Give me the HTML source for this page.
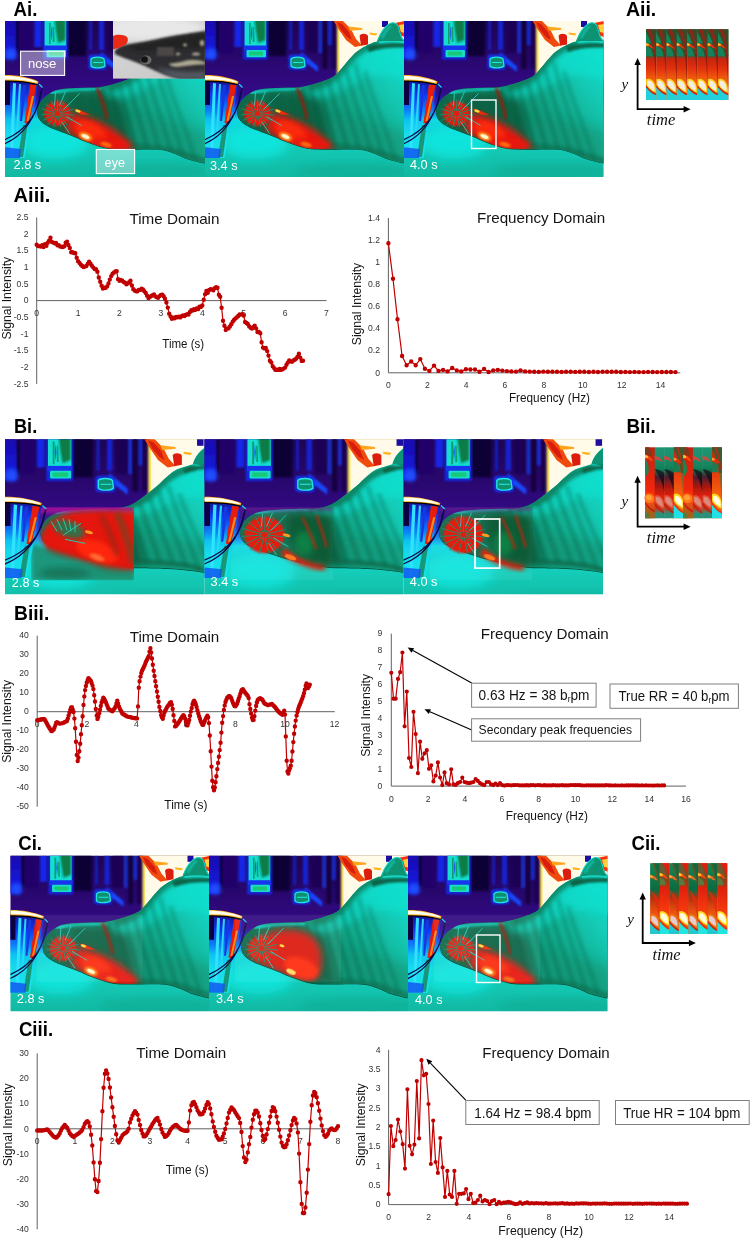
<!DOCTYPE html>
<html><head><meta charset="utf-8"><title>Figure</title>
<style>html,body{margin:0;padding:0;background:#fff}svg{display:block}text{font-family:"Liberation Sans",sans-serif}text.it{font-family:"Liberation Serif",serif;font-style:italic}</style></head><body>
<svg width="750" height="1239" viewBox="0 0 750 1239">
<defs>
<linearGradient id="gBg" x1="0" y1="0" x2="0" y2="156" gradientUnits="userSpaceOnUse">
 <stop offset="0" stop-color="#1e0550"/><stop offset=".22" stop-color="#28076c"/><stop offset=".46" stop-color="#340a88"/>
 <stop offset=".52" stop-color="#2820c0"/><stop offset=".57" stop-color="#1470f0"/><stop offset=".63" stop-color="#10d8e4"/>
 <stop offset=".78" stop-color="#14ccb8"/><stop offset="1" stop-color="#12b8a2"/>
</linearGradient>
<linearGradient id="gStripe" x1="0" y1="0" x2="0" y2="40" gradientUnits="userSpaceOnUse">
 <stop offset="0" stop-color="#1a0eb0"/><stop offset=".6" stop-color="#1814d4"/><stop offset="1" stop-color="#102cff"/>
</linearGradient>
<linearGradient id="gSeal" x1="85" y1="125" x2="195" y2="25" gradientUnits="userSpaceOnUse">
 <stop offset="0" stop-color="#0c6a4a"/><stop offset=".3" stop-color="#109070"/><stop offset=".55" stop-color="#13b296"/><stop offset=".78" stop-color="#14ccb8"/><stop offset="1" stop-color="#12dccc"/>
</linearGradient>
<linearGradient id="gBucket" x1="0" y1="58" x2="0" y2="137" gradientUnits="userSpaceOnUse">
 <stop offset="0" stop-color="#14108a"/><stop offset=".2" stop-color="#1038f0"/><stop offset=".4" stop-color="#1080f8"/><stop offset=".52" stop-color="#10c4f0"/><stop offset=".7" stop-color="#14dcec"/><stop offset="1" stop-color="#18e4e8"/>
</linearGradient>
<radialGradient id="gHot" cx="0.5" cy="0.5" r="0.5">
 <stop offset="0" stop-color="#fffff0"/><stop offset=".3" stop-color="#ffe040"/><stop offset=".6" stop-color="#ff6a10"/><stop offset="1" stop-color="#ee1808" stop-opacity="0"/>
</radialGradient>
<radialGradient id="gRed" cx="0.5" cy="0.5" r="0.5">
 <stop offset="0" stop-color="#ff2a08"/><stop offset=".6" stop-color="#e81808"/><stop offset="1" stop-color="#c01808" stop-opacity="0"/>
</radialGradient>
<filter id="b05" x="-20%" y="-20%" width="140%" height="140%"><feGaussianBlur stdDeviation="0.5"/></filter>
<filter id="b1" x="-20%" y="-20%" width="140%" height="140%"><feGaussianBlur stdDeviation="1"/></filter>
<filter id="b2" x="-30%" y="-30%" width="160%" height="160%"><feGaussianBlur stdDeviation="2"/></filter>
<filter id="b3" x="-30%" y="-30%" width="160%" height="160%"><feGaussianBlur stdDeviation="3.5"/></filter>
<filter id="b6" x="-40%" y="-40%" width="180%" height="180%"><feGaussianBlur stdDeviation="6"/></filter>
<clipPath id="cpPanel"><rect x="0" y="0" width="200" height="156"/></clipPath>
<clipPath id="cpSealB"><path d="M35.5,94C36,84 42,77 52,73.5C62,70.5 80,69.5 107,69.5C116,69.5 124,67 130,63.5C140,57 148,50 154,45C160,39 166,33 172,30C178,27.5 184,26.5 188,25C189,20 193,13 200,8L200,133C188,131 176,129.5 163,129C150,128.6 140,128.6 130,128.3C120,127.5 112,126.5 107,125.5C98,123.5 90,121.5 79,118.5C66,114.5 56,111 46,107C40,104 36,100 35.5,94Z"/></clipPath>
<clipPath id="cpSeal"><path d="M32,91C33,82 38,75 50,69.5C58,67 70,66.7 90,66.5C100,66 116,62 128,56C135,51 141,41 150,32C156,27 164,22.5 172,20.5C174,14 178,6 184,2.5C187,.5 191,.5 193,4C195,8 195.5,13 197,16C198,18 199,19 200,19.5L200,142C194,141 188,139.5 180,137C172,133 162,128.5 152,128C140,127.5 120,128.5 110,128C100,127.5 92,125 77,119C70,115.5 60,112 47,107C40,104 35,100 33,96Z"/></clipPath>

<linearGradient id="gStripA" x1="0" y1="0" x2="0" y2="70.6" gradientUnits="userSpaceOnUse">
 <stop offset="0" stop-color="#0f6a48"/><stop offset=".36" stop-color="#126844"/><stop offset=".42" stop-color="#c82410"/><stop offset=".55" stop-color="#e0300c"/><stop offset=".7" stop-color="#f05c0c"/><stop offset="1" stop-color="#f07010"/>
</linearGradient>
<linearGradient id="gStripC1" x1="0" y1="0" x2="0" y2="70.6" gradientUnits="userSpaceOnUse">
 <stop offset="0" stop-color="#108a58"/><stop offset=".38" stop-color="#0f6a40"/><stop offset=".5" stop-color="#b83010"/><stop offset=".68" stop-color="#e8500c"/><stop offset="1" stop-color="#f07010"/>
</linearGradient>
<linearGradient id="gStripC2" x1="0" y1="0" x2="0" y2="70.6" gradientUnits="userSpaceOnUse">
 <stop offset="0" stop-color="#c82810"/><stop offset=".2" stop-color="#6a5020"/><stop offset=".36" stop-color="#e02008"/><stop offset=".65" stop-color="#f43808"/><stop offset="1" stop-color="#f86810"/>
</linearGradient>
<linearGradient id="gStripB1" x1="0" y1="0" x2="0" y2="71" gradientUnits="userSpaceOnUse">
 <stop offset="0" stop-color="#c02010"/><stop offset=".25" stop-color="#d82008"/><stop offset=".6" stop-color="#f02808"/><stop offset=".75" stop-color="#f85010"/><stop offset=".9" stop-color="#c05018"/><stop offset="1" stop-color="#607830"/>
</linearGradient>
<linearGradient id="gStripB2" x1="0" y1="0" x2="0" y2="71" gradientUnits="userSpaceOnUse">
 <stop offset="0" stop-color="#1c9472"/><stop offset=".12" stop-color="#1c9070"/><stop offset=".3" stop-color="#108058"/><stop offset=".42" stop-color="#4a2030"/><stop offset=".55" stop-color="#a81810"/><stop offset=".68" stop-color="#dc2010"/><stop offset=".86" stop-color="#c83820"/><stop offset=".93" stop-color="#2c9078"/><stop offset="1" stop-color="#2c9078"/>
</linearGradient>
<linearGradient id="gStripB4" x1="0" y1="0" x2="0" y2="71" gradientUnits="userSpaceOnUse">
 <stop offset="0" stop-color="#a03818"/><stop offset=".18" stop-color="#c83010"/><stop offset=".4" stop-color="#e84010"/><stop offset=".65" stop-color="#f46010"/><stop offset="1" stop-color="#f07010"/>
</linearGradient>
<g id="stripA">
 <rect width="10.4" height="70.6" fill="url(#gStripA)"/>
 <path d="M0,0L10.4,0L10.4,27L7,27C6,18 3,8 0,3Z" fill="#3a4a28"/>
 <path d="M1.5,0L5,0C7.5,7 9.5,16 10.2,26L8.4,26C7.5,17 5,8 1.5,0Z" fill="#8a2814"/>
 <path d="M0,3C2.5,8 4.5,11 5,14L0,14Z" fill="#14845e"/>
 <path d="M0,17L4,19C6,21.5 7,24.5 7.2,27L0,27Z" fill="#14805a"/>
 <path d="M0,13.5L4,15L8.5,19.5L5.5,19L3.5,17.5L0,17Z" fill="#e8300a"/>
 <path d="M0,13.8L2.6,14.8L3,16.3L0,16.4Z" fill="#ffc830"/>
 <path d="M8,26C9.2,36 10,50 10.4,63L10.4,26Z" fill="#8a1c0c" opacity=".85"/>
 <path d="M0.2,50C3,48.3 6.8,50.5 8.6,54.2C10,57.3 10.1,61 9.7,63.6C6.5,62.6 2.4,59.6 0.2,56.2Z" fill="#ffd21c"/>
 <path d="M1.4,51.6C3.6,50.6 6.2,52.4 7.6,55.2C8.6,57.6 8.8,60 8.5,61.6C6,60.6 3,58.4 1.4,55.6Z" fill="#f2eee2"/>
 <path d="M0,57.6C3,61.6 7,64.6 10.4,65.6L10.4,70.6L0,70.6Z" fill="#24d0dc"/>
 <path d="M0,55.8C3,60 7,63.2 10.4,64.3L10.4,66C7,65 3,61.9 0,57.9Z" fill="#c82808"/>
</g>
<g id="stripC1">
 <rect width="10" height="70.8" fill="url(#gStripC1)"/>
 <path d="M3,0L9.7,0L9.7,34C9,22 7,10 3,0Z" fill="#0e6a3c"/>
 <path d="M2,0L4.5,0C6.5,6 8,12 8.6,20L7,20C6.4,13 4.5,6 2,0Z" fill="#6a5428" opacity=".8"/>
 <path d="M0,11.5L4.5,13L8,17L5,16.8L3,15.4L0,15Z" fill="#e06a28"/>
 <path d="M0,11.8L2.6,12.8L3,14.2L0,14.3Z" fill="#ffb040"/>
 <path d="M0,27C4,34 7.5,44 9,56L9.7,56L9.7,38C7,34 4,29 0,27Z" fill="#e02c08" opacity=".75"/>
 <path d="M0.2,51.5C3,49.8 6.6,52 8.3,55.6C9.5,58.6 9.5,62.2 9.2,64.6C6.2,63.6 2.3,60.8 0.2,57.4Z" fill="#f0761c"/>
 <path d="M1.2,53C3.4,52 5.8,53.8 7.2,56.6C8.2,59 8.3,61.4 8,63C5.8,62 2.8,59.8 1.2,57Z" fill="#e4ccd0"/>
 <path d="M0,59.4C3,63.4 6.6,66.4 9.7,67.6L9.7,70.8L0,70.8Z" fill="#24c8d0"/>
 <path d="M0,57.6C3,61.8 6.6,65 9.7,66.2L9.7,68C6.6,66.9 3,63.8 0,59.8Z" fill="#c02808"/>
</g>
<g id="stripC2">
 <rect width="10" height="70.8" fill="url(#gStripC2)"/>
 <path d="M0,0L3,0C5.5,5 7,10 7.4,16L0,12Z" fill="#6a5a30"/>
 <path d="M3,0L9.7,0L9.7,14C8.6,9 6.4,4 3,0Z" fill="#e41c08"/>
 <path d="M0,14L4,16C5.5,18 6,20 6,22L0,22Z" fill="#5a7a3c"/>
 <path d="M0,9.5L4.5,11L8.5,15.5L5.5,15L3.5,13.5L0,13.5Z" fill="#f8440c"/>
 <path d="M0,9.6L3,10.8L3.4,12.6L0,12.8Z" fill="#ffc828"/>
 <path d="M8.6,14C9.2,26 9.5,40 9.7,56L9.7,14Z" fill="#a83818" opacity=".8"/>
 <path d="M0,48.5C3,46.6 7,49 8.8,53C10,56.2 10,60 9.6,62.6C6.4,61.6 2.2,58.6 0,55Z" fill="#ffd81c"/>
 <path d="M1,50.2C3.4,49 6.2,51 7.6,54C8.6,56.4 8.8,59 8.5,60.6C6,59.6 2.8,57.2 1,54.2Z" fill="#fffbdc"/>
 <path d="M0,57.6C3,61.8 6.6,65 9.7,66.2L9.7,70.8L0,70.8Z" fill="#22e4e0"/>
 <path d="M0,55.8C3,60.2 6.6,63.6 9.7,64.8L9.7,66.6C6.6,65.5 3,62.2 0,58Z" fill="#e23408"/>
</g>
<g id="stripB1">
 <rect width="10" height="71" fill="url(#gStripB1)"/>
 <path d="M0,0L4,0C5.5,3 6.5,6 6.5,9L0,7Z" fill="#7a3a1c"/>
 <path d="M0,12C2.5,14 4,18 3.5,24C3,27 1.5,28.5 0,29Z" fill="#1a8452"/>
 <path d="M0,7.2L4.5,9L8.5,14L5.5,13.5L3.5,11.8L0,11.5Z" fill="#f04a10"/>
 <path d="M0,7.4L2.6,8.6L3,10.2L0,10.6Z" fill="#ffd040"/>
 <ellipse cx="4.2" cy="51" rx="5" ry="4.6" transform="rotate(25 4.2 51)" fill="#ff7a1c"/>
 <ellipse cx="3.8" cy="50.4" rx="3" ry="2.4" transform="rotate(25 3.8 50.4)" fill="#ffa234"/>
 <path d="M0,54.5C3,59 6.6,62 9.7,63L9.7,65.2C6.6,64.2 3,61 0,57Z" fill="#c81c08"/>
 <path d="M0,58C3,62 6.6,65 9.7,66L9.7,71L0,71Z" fill="#a86018" opacity=".9"/>
 <path d="M0,64L4,67L5,71L0,71Z" fill="#4a8040" opacity=".8"/>
</g>
<g id="stripB2">
 <rect width="10" height="71" fill="url(#gStripB2)"/>
 <path d="M0,8.5L4.5,10L8.5,14.5L5.5,14L3.5,12.5L0,12.5Z" fill="#cc4a3c"/>
 <path d="M0,22C4,27 8,35 9.7,46L9.7,26C7,24 4,22 0,22Z" fill="#0a0a14" opacity=".65"/>
 <path d="M0.2,48.5C3,46.8 6.6,49 8.3,52.6C9.5,55.6 9.5,59 9.2,61.4C6.2,60.4 2.3,57.6 0.2,54.2Z" fill="#e8543c"/>
 <path d="M1.2,50C3.4,49 5.8,50.8 7.2,53.6C8.2,56 8.3,58.2 8,59.8C5.8,58.8 2.8,56.6 1.2,53.8Z" fill="#dc8a7a"/>
 <path d="M0,55.5C3,60 6.6,63.2 9.7,64.4L9.7,66.6C6.6,65.4 3,62.2 0,58Z" fill="#c02010"/>
</g>
<g id="stripB4">
 <rect width="10" height="71" fill="url(#gStripB4)"/>
 <path d="M0,0L9.7,0L9.7,26L7,26C6.4,17 4,8 0,2Z" fill="#3a5a30"/>
 <path d="M2,0L5,0C7,6 8.6,14 9.2,22L7.6,22C7,14 5,6 2,0Z" fill="#a83018"/>
 <path d="M0,14L4,16C5.5,19 6.4,22 6.6,25L0,25Z" fill="#1a7c50"/>
 <path d="M0,10L4.5,11.6L8.5,16L5.5,15.6L3.5,14L0,14Z" fill="#e4300c"/>
 <path d="M0,10.2L2.6,11.4L3,13L0,13.2Z" fill="#ffa030"/>
 <path d="M7.5,26C8.6,36 9.4,48 9.7,60L9.7,26Z" fill="#6a6a2c" opacity=".85"/>
 <path d="M0,47C3,45 7,47.4 8.8,51.6C10,54.8 10,58.8 9.6,61.4C6.4,60.4 2.2,57.2 0,53.6Z" fill="#ffd81c"/>
 <path d="M1,48.8C3.4,47.6 6.2,49.6 7.6,52.8C8.6,55.2 8.8,57.8 8.5,59.4C6,58.4 2.8,56 1,52.8Z" fill="#fffbe0"/>
 <path d="M0,57C3,61.2 6.6,64.6 9.7,65.8L9.7,71L0,71Z" fill="#22e0e8"/>
 <path d="M0,55.2C3,59.6 6.6,63 9.7,64.2L9.7,66C6.6,64.9 3,61.6 0,57.4Z" fill="#e43808"/>
</g>
<filter id="b05s" x="-5%" y="-5%" width="110%" height="110%"><feGaussianBlur stdDeviation="0.45"/></filter>
<linearGradient id="gInset" x1="0" y1="0" x2="1" y2="1">
 <stop offset="0" stop-color="#dcdcdc"/><stop offset=".5" stop-color="#cfcfcf"/><stop offset="1" stop-color="#c4c4c6"/>
</linearGradient>
<clipPath id="cpInset"><rect x="108" y="0" width="92" height="57.8"/></clipPath>
<clipPath id="cpOvB"><rect x="26" y="68" width="103" height="73"/></clipPath>
<clipPath id="cpOvC"><rect x="26" y="59" width="106" height="67"/></clipPath>
<g id="sceneA">
<rect x="-2" y="-2" width="226" height="172" fill="url(#gBg)"/>
<ellipse cx="50" cy="122" rx="34" ry="16" fill="#10ece8" opacity=".75" filter="url(#b6)"/>
<ellipse cx="150" cy="150" rx="60" ry="8" fill="#10a890" opacity=".5" filter="url(#b3)"/>
<g filter="url(#b1)">
<rect x="-2" y="-2" width="12.5" height="40" fill="url(#gStripe)"/>
<rect x="11.6" y="-2" width="1.8" height="35" fill="#05001a"/>
<rect x="14" y="-2" width="14" height="34" fill="#24066a"/>
<rect x="29.5" y="-2" width="7" height="28" fill="#1626e8"/>
<rect x="38" y="-2" width="24.5" height="40.5" fill="#1426dc"/>
<rect x="63" y="-2" width="18" height="37" fill="#0c0034"/>
<rect x="84.5" y="-2" width="2.4" height="31" fill="#1420c8"/>
<rect x="94" y="-2" width="5" height="31" fill="#1824d0"/>
<rect x="102" y="-2" width="11" height="34" fill="#1a0454"/>
<rect x="114.2" y="-2" width="2" height="34" fill="#1840f8"/>
<rect x="123.6" y="-2" width="2.2" height="26" fill="#1438f0"/>
<rect x="117.5" y="-2" width="5" height="50" fill="#12003c"/>
<rect x="126.5" y="-2" width="6" height="50" fill="#1a0450"/>
<path d="M96,31L113,45.5L113,51L96,38Z" fill="#1848ff"/>
<rect x="83.5" y="33.5" width="18" height="15" rx="3" fill="#1430e8"/>
</g>
<ellipse cx="6" cy="33" rx="6" ry="6" fill="#2058ff" opacity=".8" filter="url(#b2)"/>
<g filter="url(#b05)">
<rect x="39.6" y="-2" width="21.6" height="27" fill="#12dcd2"/>
<path d="M49.5,-2L60.4,-2L60.4,19L53,22L51,10Z" fill="#0f7c46" filter="url(#b1)"/>
<path d="M44,2L45.6,2L45.6,23L44,23Z M47.6,6L49,6L49.5,21L47.8,21Z" fill="#109058" opacity=".85"/>
<path d="M46.5,4L47.4,12L46.5,20L45.8,12Z" fill="#2060f0"/>
<rect x="39" y="24.5" width="23" height="5" fill="#1834ec"/>
<rect x="41.5" y="29" width="19.5" height="7.2" rx="1" fill="#14dcc8"/>
<rect x="44" y="30.6" width="14" height="4" rx="1" fill="#18c878"/>
<path d="M86,38C88,35.5 97,35.5 99,38L100,45C97,47.5 88,47.5 86,45Z" fill="#109070" stroke="#20e4e0" stroke-width="1.3"/>
<path d="M88,41.5H98" stroke="#20e4e0" stroke-width="1"/>
</g>
<rect x="132" y="-2" width="72" height="60" fill="#ffe860" filter="url(#b1)"/>
<rect x="134.6" y="-2" width="70" height="58" fill="#fffbe8" filter="url(#b05)"/>
<g filter="url(#b05)">
<path d="M128,-1L137,-1L146,8L151,18L157,24.5L150,26L141,19L133.5,8Z" fill="#f04c08"/>
<path d="M132,1L137,3L144,11L147,19L142,16L136,9Z" fill="#d81c08"/>
<path d="M143,5.5L157,7L157.5,8.8L145,9.8Z" fill="#ffa41c"/>
<path d="M154.6,15C155.4,12 161.6,12 163,15L163,23.5L156,24.8Z" fill="#dc1c08"/>
<path d="M164.5,11.4L172.5,12.4L171,14.4L165,13.6Z" fill="#ffb41c"/>
<path d="M190,2L200,0L200,16L194,14Z" fill="#f83008"/>
<path d="M194,4L200,3L200,12L196,11Z" fill="#ffd040"/>
</g>
<rect x="177" y="-1" width="6" height="7" fill="#1a10a0" filter="url(#b05)"/>
<path d="M32,91C33,82 38,75 50,69.5C58,67 70,66.7 90,66.5C100,66 116,62 128,56C135,51 141,41 150,32C156,27 164,22.5 172,20.5C174,14 178,6 184,2.5C187,.5 191,.5 193,4C195,8 195.5,13 197,16C198,18 199,19 200,19.5L200,142C194,141 188,139.5 180,137C172,133 162,128.5 152,128C140,127.5 120,128.5 110,128C100,127.5 92,125 77,119C70,115.5 60,112 47,107C40,104 35,100 33,96Z" fill="#06402c" filter="url(#b05)" transform="translate(0,.6)"/>
<path d="M32,91C33,82 38,75 50,69.5C58,67 70,66.7 90,66.5C100,66 116,62 128,56C135,51 141,41 150,32C156,27 164,22.5 172,20.5C174,14 178,6 184,2.5C187,.5 191,.5 193,4C195,8 195.5,13 197,16C198,18 199,19 200,19.5L200,142C194,141 188,139.5 180,137C172,133 162,128.5 152,128C140,127.5 120,128.5 110,128C100,127.5 92,125 77,119C70,115.5 60,112 47,107C40,104 35,100 33,96Z" fill="url(#gSeal)"/>
<g clip-path="url(#cpSeal)">
<path d="M100,70C116,67 130,60 140,48C149,38 160,30 174,27C186,26 196,28 204,30L204,62C186,52 166,52 150,62C138,70 122,78 104,80Z" fill="#10e4d4" opacity=".55" filter="url(#b3)"/>
<path d="M45,72C60,68.5 80,68.5 96,68" stroke="#18e4dc" stroke-width="2.4" fill="none" filter="url(#b1)"/>
<path d="M104,66C116,63 126,59 132,53C138,46 144,38 151,32C157,27 165,23 174,21" stroke="#0c7452" stroke-width="8" fill="none" opacity=".75" filter="url(#b2)"/>
<path d="M120,100C150,96 180,104 204,112L204,146L120,132Z" fill="#129a7c" opacity=".7" filter="url(#b6)"/>
<path d="M60,72C80,70 100,72 116,80C122,96 126,112 128,128L96,124C80,112 66,96 60,72Z" fill="#0b5a3c" opacity=".75" filter="url(#b3)"/>
<g stroke="#0a5c3e" fill="none" filter="url(#b2)" opacity=".5">
<path d="M88,69C92,89 95,104 100,126" stroke-width="4"/>
<path d="M97,68C101,88 105,105 110,127" stroke-width="3"/>
<path d="M106,67C110,87 115,105 120,127" stroke-width="3.5"/>
<path d="M115,65C119,85 126,105 131,127" stroke-width="3"/>
<path d="M124,61C128,81 137,105 142,127" stroke-width="3.5"/>
<path d="M133,55C137,75 149,106 154,128" stroke-width="3"/>
<path d="M141,48C145,68 161,109 166,131" stroke-width="3"/>
<path d="M150,42C154,62 173,114 178,136" stroke-width="2.6"/>
<path d="M160,50C164,70 185,117 190,139" stroke-width="2.4"/>
</g>
<path d="M110,125C130,127 150,126 170,131C180,134 190,138.5 202,140.5" stroke="#0a6444" stroke-width="5" fill="none" opacity=".7" filter="url(#b2)"/>
<path d="M40,98C52,104 66,110 78,117" stroke="#0a5c3e" stroke-width="4" fill="none" opacity=".7" filter="url(#b1)"/>
<path d="M173,21C175,14 179,7 184.5,3.5C187.5,1.5 190.5,2 192.5,5C194,9 194.5,13 196,16.5C197,18.5 198,19.5 200,20Z" fill="#0f9272" filter="url(#b05)"/>
<path d="M177,17C180,11 183,7 186,5" stroke="#18c8b0" stroke-width="2" fill="none" filter="url(#b1)"/>
<path d="M162,26C172,22 188,21.5 202,22.5L202,26.5C188,26 174,27 164,31Z" fill="#0a5a3c" opacity=".9" filter="url(#b1)"/>
<path d="M174,21.2C182,19.8 192,20 199,21.5" stroke="#18d8c8" stroke-width="1.4" fill="none" filter="url(#b05)"/>
<path d="M92,67C96,76 100,88 102,98" stroke="#8a2010" stroke-width="4" fill="none" opacity=".8" filter="url(#b1)"/>
<path d="M66,92C80,94 96,100 108,108C118,115 124,121 130,128L100,128C86,125 72,118 60,108Z" fill="#e81808" filter="url(#b3)"/>
<ellipse cx="86" cy="111" rx="17" ry="9" transform="rotate(28 86 111)" fill="#fa2c08" filter="url(#b2)"/>
<ellipse cx="106" cy="122.5" rx="19" ry="5.5" transform="rotate(8 106 122.5)" fill="#e81808" filter="url(#b2)"/>
<ellipse cx="52.5" cy="92.5" rx="13.5" ry="12.4" fill="#e41a0a" filter="url(#b1)"/>
<path d="M55.5,92.8L68.9,94.2M55.1,93.8L66.6,99.7M54.2,94.5L62.0,104.0M53.1,95.0L55.6,106.3M51.8,94.9L48.8,106.2M50.7,94.5L42.6,103.7M49.9,93.7L38.1,99.3M49.5,92.7L36.1,93.7M49.7,91.7L36.9,87.9M50.3,90.8L40.4,82.9M51.3,90.2L46.1,79.5M52.6,90.0L52.8,78.4M53.8,90.2L59.5,79.7M54.8,90.9L65.0,83.3M55.4,91.8L68.3,88.4" stroke="#139474" stroke-width=".9" fill="none" filter="url(#b05)"/>
<path d="M58.5,88.5L74.5,72.5M54.5,84.5L60.5,70.5M49.5,84.5L50.5,71.5M61.5,95.5L76.5,104.5M56.5,100.5L64.5,112.5" stroke="#30d8d0" stroke-width=".8" fill="none"/>
<ellipse cx="80.5" cy="115.5" rx="7" ry="3.8" transform="rotate(24 80.5 115.5)" fill="#ff8a14" filter="url(#b1)"/>
<ellipse cx="80.5" cy="115.5" rx="4.2" ry="2.1" transform="rotate(24 80.5 115.5)" fill="#fffbd0" filter="url(#b05)"/>
<ellipse cx="101" cy="123.5" rx="6" ry="2.2" transform="rotate(15 101 123.5)" fill="#ff7210" filter="url(#b1)"/>
<path d="M68,87.5L76,89.5L85,94L76,93.5Z" fill="#ee2a08" filter="url(#b05)"/>
<ellipse cx="73" cy="90" rx="2.8" ry="1.4" transform="rotate(18 73 90)" fill="#ffd840"/>
</g>
<path d="M-2,58L33.5,62.5L19.5,137L-2,137Z" fill="url(#gBucket)" filter="url(#b05)"/>
<g filter="url(#b05)">
<path d="M-2,60L5,61L5,84L-2,84Z" fill="#100440"/>
<path d="M8,62L11,62.5L8,135L5,135Z" fill="#30e0ff"/>
<path d="M14,63L16,63.2L13,112L11,112Z" fill="#28d8f8"/>
<path d="M18,64L21,64.3L17,100L15,100Z" fill="#1838e0"/>
<path d="M25,63.5L31.5,64L24,103L19.5,102Z" fill="#e81c08"/>
<path d="M27,75L29,75L23.5,100L21.5,100Z" fill="#ff8a18"/>
<path d="M22.5,104L18,136L13,136L18,104Z" fill="#149878"/>
<path d="M-2,126L16,128L15,137L-2,137Z" fill="#1450f0" opacity=".8"/>
</g>
<path d="M-2,54.8C8,54 22,56.2 33,60.8L32.6,64.2C22,61.5 10,60.5 -2,60.8Z" fill="#000"/>
<path d="M-2,54.2C8,53.6 22,55.6 33.5,60.4L32.8,63C22,60 10,59.2 -2,59.6Z" fill="#ffb020" filter="url(#b05)"/>
<path d="M-2,55C8,54.4 21,56.2 32,60.4L31.6,61.8C21,59 9,58.2 -2,58.6Z" fill="#fffff0"/>
<path d="M37,66.5C34,94 19,111 -2,119.5M36,70.5C31.5,98 17,115.5 -2,123.5" stroke="#0a0a48" stroke-width="1.3" fill="none"/>
<path d="M34,63L37.5,66.5" stroke="#20d0f0" stroke-width="1.2"/>
</g>
<g id="sceneN">
<rect x="-2" y="-2" width="226" height="172" fill="url(#gBg)"/>
<ellipse cx="50" cy="122" rx="34" ry="16" fill="#10ece8" opacity=".75" filter="url(#b6)"/>
<ellipse cx="150" cy="150" rx="60" ry="8" fill="#10a890" opacity=".5" filter="url(#b3)"/>
<g filter="url(#b1)">
<rect x="-2" y="-2" width="12.5" height="40" fill="url(#gStripe)"/>
<rect x="11.6" y="-2" width="1.8" height="35" fill="#05001a"/>
<rect x="14" y="-2" width="14" height="34" fill="#24066a"/>
<rect x="29.5" y="-2" width="7" height="28" fill="#1626e8"/>
<rect x="38" y="-2" width="24.5" height="40.5" fill="#1426dc"/>
<rect x="63" y="-2" width="18" height="37" fill="#0c0034"/>
<rect x="84.5" y="-2" width="2.4" height="31" fill="#1420c8"/>
<rect x="94" y="-2" width="5" height="31" fill="#1824d0"/>
<rect x="102" y="-2" width="11" height="34" fill="#1a0454"/>
<rect x="114.2" y="-2" width="2" height="34" fill="#1840f8"/>
<rect x="123.6" y="-2" width="2.2" height="26" fill="#1438f0"/>
<rect x="117.5" y="-2" width="5" height="50" fill="#12003c"/>
<rect x="126.5" y="-2" width="6" height="50" fill="#1a0450"/>
<path d="M96,31L113,45.5L113,51L96,38Z" fill="#1848ff"/>
<rect x="83.5" y="33.5" width="18" height="15" rx="3" fill="#1430e8"/>
</g>
<ellipse cx="6" cy="33" rx="6" ry="6" fill="#2058ff" opacity=".8" filter="url(#b2)"/>
<g filter="url(#b05)">
<rect x="39.6" y="-2" width="21.6" height="27" fill="#12dcd2"/>
<path d="M49.5,-2L60.4,-2L60.4,19L53,22L51,10Z" fill="#0f7c46" filter="url(#b1)"/>
<path d="M44,2L45.6,2L45.6,23L44,23Z M47.6,6L49,6L49.5,21L47.8,21Z" fill="#109058" opacity=".85"/>
<path d="M46.5,4L47.4,12L46.5,20L45.8,12Z" fill="#2060f0"/>
<rect x="39" y="24.5" width="23" height="5" fill="#1834ec"/>
<rect x="41.5" y="29" width="19.5" height="7.2" rx="1" fill="#14dcc8"/>
<rect x="44" y="30.6" width="14" height="4" rx="1" fill="#18c878"/>
<path d="M86,38C88,35.5 97,35.5 99,38L100,45C97,47.5 88,47.5 86,45Z" fill="#109070" stroke="#20e4e0" stroke-width="1.3"/>
<path d="M88,41.5H98" stroke="#20e4e0" stroke-width="1"/>
</g>
<rect x="132" y="-2" width="72" height="60" fill="#ffe860" filter="url(#b1)"/>
<rect x="134.6" y="-2" width="70" height="58" fill="#fffbe8" filter="url(#b05)"/>
<g filter="url(#b05)">
<path d="M128,-1L137,-1L146,8L151,18L157,24.5L150,26L141,19L133.5,8Z" fill="#f04c08"/>
<path d="M132,1L137,3L144,11L147,19L142,16L136,9Z" fill="#d81c08"/>
<path d="M143,5.5L157,7L157.5,8.8L145,9.8Z" fill="#ffa41c"/>
<path d="M154.6,15C155.4,12 161.6,12 163,15L163,23.5L156,24.8Z" fill="#dc1c08"/>
<path d="M164.5,11.4L172.5,12.4L171,14.4L165,13.6Z" fill="#ffb41c"/>
<path d="M190,2L200,0L200,16L194,14Z" fill="#f83008"/>
<path d="M194,4L200,3L200,12L196,11Z" fill="#ffd040"/>
</g>
<rect x="177" y="-1" width="6" height="7" fill="#1a10a0" filter="url(#b05)"/>
<path d="M32,91C33,82 38,75 50,69.5C58,67 70,66.7 90,66.5C100,66 116,62 128,56C135,51 141,41 150,32C156,27 164,22.5 172,20.5C174,14 178,6 184,2.5C187,.5 191,.5 193,4C195,8 195.5,13 197,16C198,18 199,19 200,19.5L200,142C194,141 188,139.5 180,137C172,133 162,128.5 152,128C140,127.5 120,128.5 110,128C100,127.5 92,125 77,119C70,115.5 60,112 47,107C40,104 35,100 33,96Z" fill="#06402c" filter="url(#b05)" transform="translate(0,.6)"/>
<path d="M32,91C33,82 38,75 50,69.5C58,67 70,66.7 90,66.5C100,66 116,62 128,56C135,51 141,41 150,32C156,27 164,22.5 172,20.5C174,14 178,6 184,2.5C187,.5 191,.5 193,4C195,8 195.5,13 197,16C198,18 199,19 200,19.5L200,142C194,141 188,139.5 180,137C172,133 162,128.5 152,128C140,127.5 120,128.5 110,128C100,127.5 92,125 77,119C70,115.5 60,112 47,107C40,104 35,100 33,96Z" fill="url(#gSeal)"/>
<g clip-path="url(#cpSeal)">
<path d="M100,70C116,67 130,60 140,48C149,38 160,30 174,27C186,26 196,28 204,30L204,62C186,52 166,52 150,62C138,70 122,78 104,80Z" fill="#10e4d4" opacity=".55" filter="url(#b3)"/>
<path d="M45,72C60,68.5 80,68.5 96,68" stroke="#18e4dc" stroke-width="2.4" fill="none" filter="url(#b1)"/>
<path d="M104,66C116,63 126,59 132,53C138,46 144,38 151,32C157,27 165,23 174,21" stroke="#0c7452" stroke-width="8" fill="none" opacity=".75" filter="url(#b2)"/>
<path d="M120,100C150,96 180,104 204,112L204,146L120,132Z" fill="#129a7c" opacity=".7" filter="url(#b6)"/>
<path d="M60,72C80,70 100,72 116,80C122,96 126,112 128,128L96,124C80,112 66,96 60,72Z" fill="#0b5a3c" opacity=".75" filter="url(#b3)"/>
<g stroke="#0a5c3e" fill="none" filter="url(#b2)" opacity=".5">
<path d="M88,69C92,89 95,104 100,126" stroke-width="4"/>
<path d="M97,68C101,88 105,105 110,127" stroke-width="3"/>
<path d="M106,67C110,87 115,105 120,127" stroke-width="3.5"/>
<path d="M115,65C119,85 126,105 131,127" stroke-width="3"/>
<path d="M124,61C128,81 137,105 142,127" stroke-width="3.5"/>
<path d="M133,55C137,75 149,106 154,128" stroke-width="3"/>
<path d="M141,48C145,68 161,109 166,131" stroke-width="3"/>
<path d="M150,42C154,62 173,114 178,136" stroke-width="2.6"/>
<path d="M160,50C164,70 185,117 190,139" stroke-width="2.4"/>
</g>
<path d="M110,125C130,127 150,126 170,131C180,134 190,138.5 202,140.5" stroke="#0a6444" stroke-width="5" fill="none" opacity=".7" filter="url(#b2)"/>
<path d="M40,98C52,104 66,110 78,117" stroke="#0a5c3e" stroke-width="4" fill="none" opacity=".7" filter="url(#b1)"/>
<path d="M173,21C175,14 179,7 184.5,3.5C187.5,1.5 190.5,2 192.5,5C194,9 194.5,13 196,16.5C197,18.5 198,19.5 200,20Z" fill="#0f9272" filter="url(#b05)"/>
<path d="M177,17C180,11 183,7 186,5" stroke="#18c8b0" stroke-width="2" fill="none" filter="url(#b1)"/>
<path d="M162,26C172,22 188,21.5 202,22.5L202,26.5C188,26 174,27 164,31Z" fill="#0a5a3c" opacity=".9" filter="url(#b1)"/>
<path d="M174,21.2C182,19.8 192,20 199,21.5" stroke="#18d8c8" stroke-width="1.4" fill="none" filter="url(#b05)"/>
</g>
</g>
<g id="bgB"><g transform="scale(1.085)">
<rect x="-2" y="-2" width="226" height="172" fill="url(#gBg)"/>
<ellipse cx="50" cy="122" rx="34" ry="16" fill="#10ece8" opacity=".75" filter="url(#b6)"/>
<ellipse cx="150" cy="150" rx="60" ry="8" fill="#10a890" opacity=".5" filter="url(#b3)"/>
<g filter="url(#b1)">
<rect x="-2" y="-2" width="12.5" height="40" fill="url(#gStripe)"/>
<rect x="11.6" y="-2" width="1.8" height="35" fill="#05001a"/>
<rect x="14" y="-2" width="14" height="34" fill="#24066a"/>
<rect x="29.5" y="-2" width="7" height="28" fill="#1626e8"/>
<rect x="38" y="-2" width="24.5" height="40.5" fill="#1426dc"/>
<rect x="63" y="-2" width="18" height="37" fill="#0c0034"/>
<rect x="84.5" y="-2" width="2.4" height="31" fill="#1420c8"/>
<rect x="94" y="-2" width="5" height="31" fill="#1824d0"/>
<rect x="102" y="-2" width="11" height="34" fill="#1a0454"/>
<rect x="114.2" y="-2" width="2" height="34" fill="#1840f8"/>
<rect x="123.6" y="-2" width="2.2" height="26" fill="#1438f0"/>
<rect x="117.5" y="-2" width="5" height="50" fill="#12003c"/>
<rect x="126.5" y="-2" width="6" height="50" fill="#1a0450"/>
<path d="M96,31L113,45.5L113,51L96,38Z" fill="#1848ff"/>
<rect x="83.5" y="33.5" width="18" height="15" rx="3" fill="#1430e8"/>
</g>
<ellipse cx="6" cy="33" rx="6" ry="6" fill="#2058ff" opacity=".8" filter="url(#b2)"/>
<g filter="url(#b05)">
<rect x="39.6" y="-2" width="21.6" height="27" fill="#12dcd2"/>
<path d="M49.5,-2L60.4,-2L60.4,19L53,22L51,10Z" fill="#0f7c46" filter="url(#b1)"/>
<path d="M44,2L45.6,2L45.6,23L44,23Z M47.6,6L49,6L49.5,21L47.8,21Z" fill="#109058" opacity=".85"/>
<path d="M46.5,4L47.4,12L46.5,20L45.8,12Z" fill="#2060f0"/>
<rect x="39" y="24.5" width="23" height="5" fill="#1834ec"/>
<rect x="41.5" y="29" width="19.5" height="7.2" rx="1" fill="#14dcc8"/>
<rect x="44" y="30.6" width="14" height="4" rx="1" fill="#18c878"/>
<path d="M86,38C88,35.5 97,35.5 99,38L100,45C97,47.5 88,47.5 86,45Z" fill="#109070" stroke="#20e4e0" stroke-width="1.3"/>
<path d="M88,41.5H98" stroke="#20e4e0" stroke-width="1"/>
</g>
<rect x="132" y="-2" width="72" height="60" fill="#ffe860" filter="url(#b1)"/>
<rect x="134.6" y="-2" width="70" height="58" fill="#fffbe8" filter="url(#b05)"/>
<g filter="url(#b05)">
<path d="M128,-1L137,-1L146,8L151,18L157,24.5L150,26L141,19L133.5,8Z" fill="#f04c08"/>
<path d="M132,1L137,3L144,11L147,19L142,16L136,9Z" fill="#d81c08"/>
<path d="M143,5.5L157,7L157.5,8.8L145,9.8Z" fill="#ffa41c"/>
<path d="M154.6,15C155.4,12 161.6,12 163,15L163,23.5L156,24.8Z" fill="#dc1c08"/>
<path d="M164.5,11.4L172.5,12.4L171,14.4L165,13.6Z" fill="#ffb41c"/>
<path d="M190,2L200,0L200,16L194,14Z" fill="#f83008"/>
<path d="M194,4L200,3L200,12L196,11Z" fill="#ffd040"/>
</g>
<rect x="177" y="-1" width="6" height="7" fill="#1a10a0" filter="url(#b05)"/>
</g>
<path d="M35.5,94C36,84 42,77 52,73.5C62,70.5 80,69.5 107,69.5C116,69.5 124,67 130,63.5C140,57 148,50 154,45C160,39 166,33 172,30C178,27.5 184,26.5 188,25C189,20 193,13 200,8L200,133C188,131 176,129.5 163,129C150,128.6 140,128.6 130,128.3C120,127.5 112,126.5 107,125.5C98,123.5 90,121.5 79,118.5C66,114.5 56,111 46,107C40,104 36,100 35.5,94Z" fill="#06402c" filter="url(#b05)" transform="translate(0,.6)"/>
<path d="M35.5,94C36,84 42,77 52,73.5C62,70.5 80,69.5 107,69.5C116,69.5 124,67 130,63.5C140,57 148,50 154,45C160,39 166,33 172,30C178,27.5 184,26.5 188,25C189,20 193,13 200,8L200,133C188,131 176,129.5 163,129C150,128.6 140,128.6 130,128.3C120,127.5 112,126.5 107,125.5C98,123.5 90,121.5 79,118.5C66,114.5 56,111 46,107C40,104 36,100 35.5,94Z" fill="url(#gSeal)"/>
<g clip-path="url(#cpSealB)">
<g transform="matrix(1.09,0,0,.9,0,9)"><path d="M100,70C116,67 130,60 140,48C149,38 160,30 174,27C186,26 196,28 204,30L204,62C186,52 166,52 150,62C138,70 122,78 104,80Z" fill="#10e4d4" opacity=".55" filter="url(#b3)"/>
<path d="M45,72C60,68.5 80,68.5 96,68" stroke="#18e4dc" stroke-width="2.4" fill="none" filter="url(#b1)"/>
<path d="M104,66C116,63 126,59 132,53C138,46 144,38 151,32C157,27 165,23 174,21" stroke="#0c7452" stroke-width="8" fill="none" opacity=".75" filter="url(#b2)"/>
<path d="M120,100C150,96 180,104 204,112L204,146L120,132Z" fill="#129a7c" opacity=".7" filter="url(#b6)"/>
<path d="M60,72C80,70 100,72 116,80C122,96 126,112 128,128L96,124C80,112 66,96 60,72Z" fill="#0b5a3c" opacity=".75" filter="url(#b3)"/>
<g stroke="#0a5c3e" fill="none" filter="url(#b2)" opacity=".5">
<path d="M88,69C92,89 95,104 100,126" stroke-width="4"/>
<path d="M97,68C101,88 105,105 110,127" stroke-width="3"/>
<path d="M106,67C110,87 115,105 120,127" stroke-width="3.5"/>
<path d="M115,65C119,85 126,105 131,127" stroke-width="3"/>
<path d="M124,61C128,81 137,105 142,127" stroke-width="3.5"/>
<path d="M133,55C137,75 149,106 154,128" stroke-width="3"/>
<path d="M141,48C145,68 161,109 166,131" stroke-width="3"/>
<path d="M150,42C154,62 173,114 178,136" stroke-width="2.6"/>
<path d="M160,50C164,70 185,117 190,139" stroke-width="2.4"/>
</g>
<path d="M110,125C130,127 150,126 170,131C180,134 190,138.5 202,140.5" stroke="#0a6444" stroke-width="5" fill="none" opacity=".7" filter="url(#b2)"/>
<path d="M40,98C52,104 66,110 78,117" stroke="#0a5c3e" stroke-width="4" fill="none" opacity=".7" filter="url(#b1)"/></g>
<path d="M186,24C189,19 193,13 201,8L201,27Z" fill="#0f9474" filter="url(#b05)"/>
<path d="M178,30C186,27 194,26 202,26L202,30C194,30 186,31 180,34Z" fill="#0a5a3c" opacity=".85" filter="url(#b1)"/>
</g>
</g>
<g id="bucket">
<path d="M-2,58L33.5,62.5L19.5,137L-2,137Z" fill="url(#gBucket)" filter="url(#b05)"/>
<g filter="url(#b05)">
<path d="M-2,60L5,61L5,84L-2,84Z" fill="#100440"/>
<path d="M8,62L11,62.5L8,135L5,135Z" fill="#30e0ff"/>
<path d="M14,63L16,63.2L13,112L11,112Z" fill="#28d8f8"/>
<path d="M18,64L21,64.3L17,100L15,100Z" fill="#1838e0"/>
<path d="M25,63.5L31.5,64L24,103L19.5,102Z" fill="#e81c08"/>
<path d="M27,75L29,75L23.5,100L21.5,100Z" fill="#ff8a18"/>
<path d="M22.5,104L18,136L13,136L18,104Z" fill="#149878"/>
<path d="M-2,126L16,128L15,137L-2,137Z" fill="#1450f0" opacity=".8"/>
</g>
<path d="M-2,54.8C8,54 22,56.2 33,60.8L32.6,64.2C22,61.5 10,60.5 -2,60.8Z" fill="#000"/>
<path d="M-2,54.2C8,53.6 22,55.6 33.5,60.4L32.8,63C22,60 10,59.2 -2,59.6Z" fill="#ffb020" filter="url(#b05)"/>
<path d="M-2,55C8,54.4 21,56.2 32,60.4L31.6,61.8C21,59 9,58.2 -2,58.6Z" fill="#fffff0"/>
<path d="M37,66.5C34,94 19,111 -2,119.5M36,70.5C31.5,98 17,115.5 -2,123.5" stroke="#0a0a48" stroke-width="1.3" fill="none"/>
<path d="M34,63L37.5,66.5" stroke="#20d0f0" stroke-width="1.2"/>
</g></defs>
<rect width="750" height="1239" fill="#fff"/>
<svg x="5" y="21" width="200" height="156" viewBox="0 0 200 156" overflow="hidden"><use href="#sceneA"/><g clip-path="url(#cpInset)">
<rect x="108" y="0" width="92" height="57.8" fill="url(#gInset)"/>
<ellipse cx="150" cy="8" rx="50" ry="12" fill="#e8e8e8" filter="url(#b3)"/>
<path d="M109.5,31C111,27 116,24.5 122,23.5C134,22 146,20 158,17C172,14 188,12 201,10L201,58L176,58C166,56 154,52 144,47C132,41 118,37 110.5,33.5Z" fill="#2e2e30" filter="url(#b1)"/>
<path d="M120,26C134,23 150,21 166,17L201,12L201,26C180,28 150,30 130,30Z" fill="#222224" filter="url(#b2)"/>
<path d="M150,46C165,50 185,52 201,50L201,58L176,58C166,56 158,52 150,46Z" fill="#555a64" filter="url(#b2)"/>
<g fill="#aaa690" filter="url(#b1)">
<path d="M164,43C168,41.5 174,42 181,39.5C187,38 194,39 200,41L200,43.5C190,43.5 180,45 173,46C168,46 165,45 164,43Z"/>
<ellipse cx="191" cy="33" rx="4" ry="1.6"/><ellipse cx="180" cy="24" rx="2" ry="1.4"/><ellipse cx="197" cy="22" rx="2.2" ry="3"/><ellipse cx="173" cy="33" rx="2.4" ry="1.2"/>
</g>
<rect x="152" y="26" width="17" height="9" fill="#4c4644" filter="url(#b1)"/>
<ellipse cx="141" cy="39" rx="5.5" ry="4.6" fill="#6a6668" filter="url(#b05)"/>
<ellipse cx="139.5" cy="38.5" rx="3.4" ry="3.2" fill="#141416"/>
<path d="M108,15C112,13 119,13.5 122,16C123.5,18 123,22 120,24C116,26 111,27.5 108,28.5Z" fill="#e82a14" filter="url(#b05)"/>
</g><rect x="15.6" y="30.2" width="44" height="24.2" fill="#fff" fill-opacity=".42" stroke="#fff" stroke-width="1.1"/>
<text x="22.9" y="47.1" font-size="13.5" fill="#fff" textLength="28.4" lengthAdjust="spacingAndGlyphs">nose</text>
<rect x="91.3" y="128.5" width="38.3" height="24.1" fill="#fff" fill-opacity=".42" stroke="#fff" stroke-width="1.1"/>
<text x="99.6" y="145.8" font-size="13.5" fill="#fff" textLength="20.4" lengthAdjust="spacingAndGlyphs">eye</text><text x="8.6" y="148.2" font-size="12.8" fill="#fff" textLength="27.6" lengthAdjust="spacingAndGlyphs">2.8 s</text></svg>
<svg x="205" y="21" width="199" height="156" viewBox="0 0 199 156" overflow="hidden"><use href="#sceneA"/><text x="5" y="148.6" font-size="12.8" fill="#fff" textLength="27.6" lengthAdjust="spacingAndGlyphs">3.4 s</text></svg>
<svg x="404" y="21" width="199.5" height="156" viewBox="0 0 199.5 156" overflow="hidden"><use href="#sceneA"/><rect x="67.5" y="79" width="24.5" height="48.5" fill="none" stroke="#fff" stroke-width="1.4"/><text x="6" y="148.2" font-size="12.8" fill="#fff" textLength="27.6" lengthAdjust="spacingAndGlyphs">4.0 s</text></svg>
<svg x="5" y="439.3" width="199.5" height="155" viewBox="0 0 199.5 155" overflow="hidden"><use href="#bgB"/>
<g clip-path="url(#cpOvB)">
<rect x="26" y="68" width="103" height="73" fill="#fff" opacity=".06"/>
<rect x="26" y="66" width="103" height="8" fill="#b0109a" opacity=".85" filter="url(#b2)"/>
<path d="M36,100C38,86 50,76 70,73C90,71 115,72 131,72L131,132C115,134 100,132 86,126C70,120 52,118 42,112Z" fill="#e41408" filter="url(#b2)"/>
<ellipse cx="92" cy="112" rx="22" ry="10" transform="rotate(20 92 112)" fill="#ff2808" filter="url(#b2)"/>
<path d="M96,76C102,86 108,100 112,116" stroke="#8a2c18" stroke-width="6" fill="none" opacity=".6" filter="url(#b2)"/>
<path d="M112,74C118,86 124,104 128,124" stroke="#5a5028" stroke-width="7" fill="none" opacity=".6" filter="url(#b2)"/>
<ellipse cx="64" cy="90" rx="16" ry="8" transform="rotate(20 64 90)" fill="#1a7a50" opacity=".85" filter="url(#b2)"/>
<path d="M46,82L52,92M52,80L57,91M58,79L62,91M64,80L66,92M70,82L70,93M58,96L76,84M60,100L80,104" stroke="#28c8b0" stroke-width="1" fill="none"/>
<ellipse cx="84" cy="93" rx="4" ry="1.6" transform="rotate(15 84 93)" fill="#ff9a20"/>
<path d="M26,104C34,106 40,108 46,110C58,114 70,118 80,121C96,126 112,129 130,131L130,142L26,142Z" fill="#1c7a58" opacity=".72" filter="url(#b2)"/>
<ellipse cx="60" cy="134" rx="26" ry="6" fill="#14583c" opacity=".55" filter="url(#b3)"/>
<ellipse cx="92" cy="118" rx="8" ry="3" transform="rotate(20 92 118)" fill="#ff6a30" filter="url(#b1)"/>
</g>
<g transform="matrix(1.1,0,0,.98,0,4.5)"><use href="#bucket"/></g><text x="6.8" y="147.5" font-size="12.8" fill="#fff" textLength="27.6" lengthAdjust="spacingAndGlyphs">2.8 s</text></svg>
<svg x="204.5" y="439.3" width="199" height="155" viewBox="0 0 199 155" overflow="hidden"><use href="#bgB"/>
<g clip-path="url(#cpOvB)">
<rect x="26" y="68" width="103" height="73" fill="#fff" opacity=".06"/>
<rect x="26" y="66" width="103" height="6" fill="#7a1890" opacity=".5" filter="url(#b2)"/>
<ellipse cx="60" cy="95.5" rx="20" ry="18.4" fill="#e41a0a" filter="url(#b1)"/>
<path d="M63.0,95.8L82.8,97.9M62.6,96.8L79.7,105.5M61.7,97.5L73.2,111.4M60.6,98.0L64.4,114.5M59.3,97.9L54.8,114.4M58.2,97.5L46.2,111.0M57.4,96.7L39.9,104.9M57.0,95.7L37.1,97.2M57.2,94.7L38.3,89.2M57.8,93.8L43.2,82.3M58.8,93.2L51.0,77.6M60.1,93.0L60.4,76.1M61.3,93.2L69.7,77.9M62.3,93.9L77.4,82.8M62.9,94.8L82.0,89.8" stroke="#139474" stroke-width=".9" fill="none" filter="url(#b05)"/>
<path d="M66,91.5L82,75.5M62,87.5L68,73.5M57,87.5L58,74.5M69,98.5L84,107.5M64,103.5L72,115.5" stroke="#30d8d0" stroke-width=".8" fill="none"/>
<path d="M78,112C90,120 104,126 120,128" stroke="#e82008" stroke-width="7" fill="none" filter="url(#b2)"/>
<path d="M84,76C96,74 112,76 128,74L128,126C112,126 100,122 92,112C86,102 82,90 84,76Z" fill="#0c5a34" opacity=".9" filter="url(#b3)"/>
<ellipse cx="100" cy="104" rx="10" ry="12" fill="#0f8a48" opacity=".8" filter="url(#b3)"/>
<path d="M98,78C104,90 108,100 112,110M112,76C116,88 120,98 122,108" stroke="#b02810" stroke-width="3" fill="none" opacity=".75" filter="url(#b1)"/>
<ellipse cx="86" cy="118" rx="6" ry="2.6" transform="rotate(20 86 118)" fill="#ff7a20" filter="url(#b05)"/>
<ellipse cx="82" cy="96" rx="4" ry="1.5" transform="rotate(15 82 96)" fill="#ff9a20"/>
</g>
<g transform="matrix(1.1,0,0,.98,0,4.5)"><use href="#bucket"/></g><text x="6.1" y="147.2" font-size="12.8" fill="#fff" textLength="27.6" lengthAdjust="spacingAndGlyphs">3.4 s</text></svg>
<svg x="403.5" y="439.3" width="199.5" height="155" viewBox="0 0 199.5 155" overflow="hidden"><use href="#bgB"/>
<g clip-path="url(#cpOvB)">
<rect x="26" y="68" width="103" height="73" fill="#fff" opacity=".06"/>
<rect x="26" y="66" width="103" height="6" fill="#7a1890" opacity=".5" filter="url(#b2)"/>
<ellipse cx="60" cy="95.5" rx="20" ry="18.4" fill="#e41a0a" filter="url(#b1)"/>
<path d="M63.0,95.8L82.8,97.9M62.6,96.8L79.7,105.5M61.7,97.5L73.2,111.4M60.6,98.0L64.4,114.5M59.3,97.9L54.8,114.4M58.2,97.5L46.2,111.0M57.4,96.7L39.9,104.9M57.0,95.7L37.1,97.2M57.2,94.7L38.3,89.2M57.8,93.8L43.2,82.3M58.8,93.2L51.0,77.6M60.1,93.0L60.4,76.1M61.3,93.2L69.7,77.9M62.3,93.9L77.4,82.8M62.9,94.8L82.0,89.8" stroke="#139474" stroke-width=".9" fill="none" filter="url(#b05)"/>
<path d="M66,91.5L82,75.5M62,87.5L68,73.5M57,87.5L58,74.5M69,98.5L84,107.5M64,103.5L72,115.5" stroke="#30d8d0" stroke-width=".8" fill="none"/>
<path d="M78,112C90,120 104,126 120,128" stroke="#e82008" stroke-width="7" fill="none" filter="url(#b2)"/>
<path d="M84,76C96,74 112,76 128,74L128,126C112,126 100,122 92,112C86,102 82,90 84,76Z" fill="#0c5a34" opacity=".9" filter="url(#b3)"/>
<ellipse cx="100" cy="104" rx="10" ry="12" fill="#0f8a48" opacity=".8" filter="url(#b3)"/>
<path d="M98,78C104,90 108,100 112,110M112,76C116,88 120,98 122,108" stroke="#b02810" stroke-width="3" fill="none" opacity=".75" filter="url(#b1)"/>
<ellipse cx="86" cy="118" rx="6" ry="2.6" transform="rotate(20 86 118)" fill="#ff7a20" filter="url(#b05)"/>
<ellipse cx="82" cy="96" rx="4" ry="1.5" transform="rotate(15 82 96)" fill="#ff9a20"/>
</g>
<g transform="matrix(1.1,0,0,.98,0,4.5)"><use href="#bucket"/></g><rect x="71.5" y="79.7" width="24.7" height="49.1" fill="none" stroke="#fff" stroke-width="1.7"/><text x="6.3" y="147.2" font-size="12.8" fill="#fff" textLength="27.6" lengthAdjust="spacingAndGlyphs">4.0 s</text></svg>
<svg x="10.5" y="855.8" width="198.5" height="155.5" viewBox="0 0 198.5 155.5" overflow="hidden"><use href="#sceneA"/>
<rect x="26" y="59" width="106" height="67" fill="#fff" opacity=".07"/><text x="6.3" y="147.6" font-size="12.8" fill="#fff" textLength="27.6" lengthAdjust="spacingAndGlyphs">2.8 s</text></svg>
<svg x="209" y="855.8" width="199" height="155.5" viewBox="0 0 199 155.5" overflow="hidden"><use href="#sceneN"/>
<g clip-path="url(#cpSeal)"><g clip-path="url(#cpOvC)">
<path d="M40,96C44,82 60,74 80,74C96,74 108,80 112,96C114,110 112,124 100,126C84,124 60,112 44,104Z" fill="#e81808" opacity=".95" filter="url(#b3)"/>
<ellipse cx="92" cy="112" rx="18" ry="10" transform="rotate(20 92 112)" fill="#ff2a08" filter="url(#b2)"/>
<ellipse cx="52.5" cy="92.5" rx="13.5" ry="12.4" fill="#e41a0a" filter="url(#b1)"/>
<path d="M55.5,92.8L68.9,94.2M55.1,93.8L66.6,99.7M54.2,94.5L62.0,104.0M53.1,95.0L55.6,106.3M51.8,94.9L48.8,106.2M50.7,94.5L42.6,103.7M49.9,93.7L38.1,99.3M49.5,92.7L36.1,93.7M49.7,91.7L36.9,87.9M50.3,90.8L40.4,82.9M51.3,90.2L46.1,79.5M52.6,90.0L52.8,78.4M53.8,90.2L59.5,79.7M54.8,90.9L65.0,83.3M55.4,91.8L68.3,88.4" stroke="#139474" stroke-width=".9" fill="none" filter="url(#b05)"/>
<path d="M58.5,88.5L74.5,72.5M54.5,84.5L60.5,70.5M49.5,84.5L50.5,71.5M61.5,95.5L76.5,104.5M56.5,100.5L64.5,112.5" stroke="#30d8d0" stroke-width=".8" fill="none"/>
<ellipse cx="82" cy="116" rx="5" ry="2.4" transform="rotate(24 82 116)" fill="#ffd860" filter="url(#b05)"/>
<ellipse cx="73" cy="90" rx="2.6" ry="1.3" transform="rotate(18 73 90)" fill="#ffd840"/>
</g></g>
<use href="#bucket"/>
<rect x="26" y="59" width="106" height="67" fill="#fff" opacity=".07"/><text x="7" y="147" font-size="12.8" fill="#fff" textLength="27.6" lengthAdjust="spacingAndGlyphs">3.4 s</text></svg>
<svg x="408" y="855.8" width="199.5" height="155.5" viewBox="0 0 199.5 155.5" overflow="hidden"><use href="#sceneA"/>
<rect x="26" y="59" width="106" height="67" fill="#fff" opacity=".07"/><rect x="68.5" y="79.2" width="23.5" height="47.5" fill="none" stroke="#fff" stroke-width="1.4"/><text x="7" y="148" font-size="12.8" fill="#fff" textLength="27.6" lengthAdjust="spacingAndGlyphs">4.0 s</text></svg>
<g filter="url(#b05s)">
<use href="#stripA" x="646" y="29.3"/>
<use href="#stripA" x="656.3" y="29.3"/>
<use href="#stripA" x="666.6" y="29.3"/>
<use href="#stripA" x="676.8" y="29.3"/>
<use href="#stripA" x="687.1" y="29.3"/>
<use href="#stripA" x="697.4" y="29.3"/>
<use href="#stripA" x="707.7" y="29.3"/>
<use href="#stripA" x="718" y="29.3"/>
<use href="#stripB1" x="645.1" y="447.3"/>
<use href="#stripB2" x="654.7" y="447.3"/>
<use href="#stripB2" x="664.2" y="447.3"/>
<use href="#stripB4" x="673.8" y="447.3"/>
<use href="#stripB1" x="683.3" y="447.3"/>
<use href="#stripB2" x="692.9" y="447.3"/>
<use href="#stripB2" x="702.5" y="447.3"/>
<use href="#stripB4" x="712" y="447.3"/>
<use href="#stripC1" x="650.1" y="863.2"/>
<use href="#stripC2" x="659.7" y="863.2"/>
<use href="#stripC1" x="669.3" y="863.2"/>
<use href="#stripC2" x="678.9" y="863.2"/>
<use href="#stripC1" x="688.5" y="863.2"/>
<use href="#stripC2" x="698.1" y="863.2"/>
<use href="#stripC1" x="707.8" y="863.2"/>
<use href="#stripC2" x="717.4" y="863.2"/>
</g>
<path d="M637.6,62.9V109.2H685.6" stroke="#000" stroke-width="1.8" fill="none" stroke-linejoin="miter"/>
<path d="M637.6,57.9l3.2,7h-6.4z M690.6,109.2l-7,-3.2v6.4z" fill="#000"/>
<text x="621.6" y="89" class="it" font-size="15" fill="#111">y</text>
<text x="646.8" y="125" class="it" font-size="16" fill="#111" textLength="28.5" lengthAdjust="spacingAndGlyphs">time</text>
<path d="M637.6,480.7V526.7H685.6" stroke="#000" stroke-width="1.8" fill="none" stroke-linejoin="miter"/>
<path d="M637.6,475.7l3.2,7h-6.4z M690.6,526.7l-7,-3.2v6.4z" fill="#000"/>
<text x="621.6" y="505.8" class="it" font-size="15" fill="#111">y</text>
<text x="646.8" y="542.9" class="it" font-size="16" fill="#111" textLength="28.5" lengthAdjust="spacingAndGlyphs">time</text>
<path d="M642.7,897.5V943H690.9" stroke="#000" stroke-width="1.8" fill="none" stroke-linejoin="miter"/>
<path d="M642.7,892.5l3.2,7h-6.4z M695.9,943l-7,-3.2v6.4z" fill="#000"/>
<text x="627.2" y="923.5" class="it" font-size="15" fill="#111">y</text>
<text x="652.4" y="959.7" class="it" font-size="16" fill="#111" textLength="28.2" lengthAdjust="spacingAndGlyphs">time</text>
<text x="13.6" y="16" font-size="19.4" fill="#000" font-weight="bold" textLength="23.8" lengthAdjust="spacingAndGlyphs" >Ai.</text>
<text x="625.9" y="15.9" font-size="19.4" fill="#000" font-weight="bold" textLength="30.4" lengthAdjust="spacingAndGlyphs" >Aii.</text>
<text x="13.6" y="201.7" font-size="19.4" fill="#000" font-weight="bold" textLength="36.8" lengthAdjust="spacingAndGlyphs" >Aiii.</text>
<text x="14" y="432.5" font-size="19.4" fill="#000" font-weight="bold" textLength="23.2" lengthAdjust="spacingAndGlyphs" >Bi.</text>
<text x="626.4" y="433.3" font-size="19.4" fill="#000" font-weight="bold" textLength="29.3" lengthAdjust="spacingAndGlyphs" >Bii.</text>
<text x="14.1" y="619.8" font-size="19.4" fill="#000" font-weight="bold" textLength="35.2" lengthAdjust="spacingAndGlyphs" >Biii.</text>
<text x="18.2" y="850" font-size="19.4" fill="#000" font-weight="bold" textLength="23.8" lengthAdjust="spacingAndGlyphs" >Ci.</text>
<text x="631.5" y="849.6" font-size="19.4" fill="#000" font-weight="bold" textLength="28.9" lengthAdjust="spacingAndGlyphs" >Cii.</text>
<text x="18.9" y="1035.9" font-size="19.4" fill="#000" font-weight="bold" textLength="34.2" lengthAdjust="spacingAndGlyphs" >Ciii.</text>
<path d="M36.7,217.4V383.9M36.7,300.6H326.5" stroke="#626262" stroke-width="1" fill="none"/>
<text x="28.5" y="386.6" font-size="8.6" fill="#333" text-anchor="end" >-2.5</text>
<text x="28.5" y="369.9" font-size="8.6" fill="#333" text-anchor="end" >-2</text>
<text x="28.5" y="353.2" font-size="8.6" fill="#333" text-anchor="end" >-1.5</text>
<text x="28.5" y="336.6" font-size="8.6" fill="#333" text-anchor="end" >-1</text>
<text x="28.5" y="319.9" font-size="8.6" fill="#333" text-anchor="end" >-0.5</text>
<text x="28.5" y="303.3" font-size="8.6" fill="#333" text-anchor="end" >0</text>
<text x="28.5" y="286.7" font-size="8.6" fill="#333" text-anchor="end" >0.5</text>
<text x="28.5" y="270" font-size="8.6" fill="#333" text-anchor="end" >1</text>
<text x="28.5" y="253.4" font-size="8.6" fill="#333" text-anchor="end" >1.5</text>
<text x="28.5" y="236.7" font-size="8.6" fill="#333" text-anchor="end" >2</text>
<text x="28.5" y="220.1" font-size="8.6" fill="#333" text-anchor="end" >2.5</text>
<text x="36.7" y="316.1" font-size="8.6" fill="#333" text-anchor="middle" >0</text>
<text x="78.1" y="316.1" font-size="8.6" fill="#333" text-anchor="middle" >1</text>
<text x="119.5" y="316.1" font-size="8.6" fill="#333" text-anchor="middle" >2</text>
<text x="160.9" y="316.1" font-size="8.6" fill="#333" text-anchor="middle" >3</text>
<text x="202.3" y="316.1" font-size="8.6" fill="#333" text-anchor="middle" >4</text>
<text x="243.7" y="316.1" font-size="8.6" fill="#333" text-anchor="middle" >5</text>
<text x="285.1" y="316.1" font-size="8.6" fill="#333" text-anchor="middle" >6</text>
<text x="326.5" y="316.1" font-size="8.6" fill="#333" text-anchor="middle" >7</text>
<text x="129.4" y="223.9" font-size="14.8" fill="#141414" textLength="90.1" lengthAdjust="spacingAndGlyphs" >Time Domain</text>
<text x="162.3" y="348.2" font-size="12.6" fill="#141414" textLength="41.9" lengthAdjust="spacingAndGlyphs" >Time (s)</text>
<text transform="translate(11,339.6) rotate(-90)" font-size="12.6" fill="#141414" textLength="82.8" lengthAdjust="spacingAndGlyphs">Signal Intensity</text>
<polyline points="36.7,244.7 38.1,246.1 39.5,246.1 40.8,246.5 42.2,245.1 43.6,247.1 45,244.3 46.4,245.8 47.7,242.8 49.1,240.7 50.5,237.8 51.9,241.9 53.3,242.6 54.6,243.3 56,243 57.4,245.2 58.8,245.3 60.2,246.6 61.5,246.7 62.9,247.1 64.3,246.3 65.7,242.7 67.1,241.6 68.4,245 69.8,247.9 71.2,252.2 72.6,252.3 74,253 75.3,253.2 76.7,257.8 78.1,261.2 79.5,262.9 80.9,264.7 82.2,266 83.6,267.1 85,266.6 86.4,266 87.8,263.8 89.1,261.7 90.5,263.7 91.9,265.7 93.3,267.6 94.7,269.1 96,269.1 97.4,271.8 98.8,277.5 100.2,281.8 101.6,285.8 102.9,288.5 104.3,287.8 105.7,287.7 107.1,286.4 108.5,283.5 109.8,279.6 111.2,276.1 112.6,273.7 114,272.5 115.4,271.5 116.7,271.3 118.1,279.3 119.5,280.8 120.9,279.9 122.3,280.8 123.6,281.9 125,282.7 126.4,284.3 127.8,283.4 129.2,282.2 130.5,280.8 131.9,285.5 133.3,289.2 134.7,290.5 136.1,291.2 137.4,291.2 138.8,290 140.2,289.9 141.6,288.6 143,289.4 144.3,291.3 145.7,292.9 147.1,295.8 148.5,298 149.9,296.9 151.2,295.9 152.6,295.2 154,294.4 155.4,296.4 156.8,297.3 158.1,297.8 159.5,296.1 160.9,295 162.3,294.7 163.7,296.3 165,298.8 166.4,302.5 167.8,307.6 169.2,313.7 170.6,316.4 171.9,318.7 173.3,317.6 174.7,318.2 176.1,316.9 177.5,317.2 178.8,316.7 180.2,317.4 181.6,316.2 183,315.4 184.4,316 185.7,315 187.1,314.2 188.5,314.5 189.9,312 191.3,310.3 192.6,310.6 194,309.2 195.4,309.8 196.8,308.4 198.2,309 199.5,306.8 200.9,306.9 202.3,305.4 203.7,299.7 205.1,294.2 206.4,291 207.8,292.8 209.2,290 210.6,289.1 212,289.5 213.3,290.3 214.7,288.3 216.1,287.3 217.5,287.8 218.9,294.8 220.2,296.8 221.6,307.7 223,320.7 224.4,325.7 225.8,329.9 227.1,328.6 228.5,328.4 229.9,326.4 231.3,324.3 232.7,321.8 234,320 235.4,318.5 236.8,317.4 238.2,316 239.6,314.5 240.9,314.6 242.3,314.1 243.7,315.5 245.1,322 246.5,323 247.8,324 249.2,326.4 250.6,327.7 252,328.5 253.4,327.1 254.7,325.6 256.1,328.4 257.5,332.1 258.9,331.9 260.3,333.3 261.6,342.2 263,347.6 264.4,348.4 265.8,348 267.2,351.1 268.5,355.6 269.9,360.7 271.3,362.4 272.7,366.2 274.1,368.1 275.4,369.9 276.8,369.7 278.2,369.9 279.6,368.9 281,369.9 282.3,369.3 283.7,368.6 285.1,367.6 286.5,364.8 287.9,362.5 289.2,360.5 290.6,361.4 292,361.8 293.4,360.5 294.8,359.8 296.1,358.8 297.5,356.8 298.9,353.7 300.3,357.6 301.7,360.9 303,360.7" fill="none" stroke="#c00000" stroke-width="1.2" stroke-linejoin="round"/>
<path d="M36.7,244.7h0M38.1,246.1h0M39.5,246.1h0M40.8,246.5h0M42.2,245.1h0M43.6,247.1h0M45,244.3h0M46.4,245.8h0M47.7,242.8h0M49.1,240.7h0M50.5,237.8h0M51.9,241.9h0M53.3,242.6h0M54.6,243.3h0M56,243h0M57.4,245.2h0M58.8,245.3h0M60.2,246.6h0M61.5,246.7h0M62.9,247.1h0M64.3,246.3h0M65.7,242.7h0M67.1,241.6h0M68.4,245h0M69.8,247.9h0M71.2,252.2h0M72.6,252.3h0M74,253h0M75.3,253.2h0M76.7,257.8h0M78.1,261.2h0M79.5,262.9h0M80.9,264.7h0M82.2,266h0M83.6,267.1h0M85,266.6h0M86.4,266h0M87.8,263.8h0M89.1,261.7h0M90.5,263.7h0M91.9,265.7h0M93.3,267.6h0M94.7,269.1h0M96,269.1h0M97.4,271.8h0M98.8,277.5h0M100.2,281.8h0M101.6,285.8h0M102.9,288.5h0M104.3,287.8h0M105.7,287.7h0M107.1,286.4h0M108.5,283.5h0M109.8,279.6h0M111.2,276.1h0M112.6,273.7h0M114,272.5h0M115.4,271.5h0M116.7,271.3h0M118.1,279.3h0M119.5,280.8h0M120.9,279.9h0M122.3,280.8h0M123.6,281.9h0M125,282.7h0M126.4,284.3h0M127.8,283.4h0M129.2,282.2h0M130.5,280.8h0M131.9,285.5h0M133.3,289.2h0M134.7,290.5h0M136.1,291.2h0M137.4,291.2h0M138.8,290h0M140.2,289.9h0M141.6,288.6h0M143,289.4h0M144.3,291.3h0M145.7,292.9h0M147.1,295.8h0M148.5,298h0M149.9,296.9h0M151.2,295.9h0M152.6,295.2h0M154,294.4h0M155.4,296.4h0M156.8,297.3h0M158.1,297.8h0M159.5,296.1h0M160.9,295h0M162.3,294.7h0M163.7,296.3h0M165,298.8h0M166.4,302.5h0M167.8,307.6h0M169.2,313.7h0M170.6,316.4h0M171.9,318.7h0M173.3,317.6h0M174.7,318.2h0M176.1,316.9h0M177.5,317.2h0M178.8,316.7h0M180.2,317.4h0M181.6,316.2h0M183,315.4h0M184.4,316h0M185.7,315h0M187.1,314.2h0M188.5,314.5h0M189.9,312h0M191.3,310.3h0M192.6,310.6h0M194,309.2h0M195.4,309.8h0M196.8,308.4h0M198.2,309h0M199.5,306.8h0M200.9,306.9h0M202.3,305.4h0M203.7,299.7h0M205.1,294.2h0M206.4,291h0M207.8,292.8h0M209.2,290h0M210.6,289.1h0M212,289.5h0M213.3,290.3h0M214.7,288.3h0M216.1,287.3h0M217.5,287.8h0M218.9,294.8h0M220.2,296.8h0M221.6,307.7h0M223,320.7h0M224.4,325.7h0M225.8,329.9h0M227.1,328.6h0M228.5,328.4h0M229.9,326.4h0M231.3,324.3h0M232.7,321.8h0M234,320h0M235.4,318.5h0M236.8,317.4h0M238.2,316h0M239.6,314.5h0M240.9,314.6h0M242.3,314.1h0M243.7,315.5h0M245.1,322h0M246.5,323h0M247.8,324h0M249.2,326.4h0M250.6,327.7h0M252,328.5h0M253.4,327.1h0M254.7,325.6h0M256.1,328.4h0M257.5,332.1h0M258.9,331.9h0M260.3,333.3h0M261.6,342.2h0M263,347.6h0M264.4,348.4h0M265.8,348h0M267.2,351.1h0M268.5,355.6h0M269.9,360.7h0M271.3,362.4h0M272.7,366.2h0M274.1,368.1h0M275.4,369.9h0M276.8,369.7h0M278.2,369.9h0M279.6,368.9h0M281,369.9h0M282.3,369.3h0M283.7,368.6h0M285.1,367.6h0M286.5,364.8h0M287.9,362.5h0M289.2,360.5h0M290.6,361.4h0M292,361.8h0M293.4,360.5h0M294.8,359.8h0M296.1,358.8h0M297.5,356.8h0M298.9,353.7h0M300.3,357.6h0M301.7,360.9h0M303,360.7h0" stroke="#c00000" stroke-width="4.4" stroke-linecap="round" fill="none"/>
<path d="M388.4,218.1V372.8M388.4,372.8H680.3" stroke="#626262" stroke-width="1" fill="none"/>
<text x="380" y="375.5" font-size="8.6" fill="#333" text-anchor="end" >0</text>
<text x="380" y="353.4" font-size="8.6" fill="#333" text-anchor="end" >0.2</text>
<text x="380" y="331.3" font-size="8.6" fill="#333" text-anchor="end" >0.4</text>
<text x="380" y="309.2" font-size="8.6" fill="#333" text-anchor="end" >0.6</text>
<text x="380" y="287.1" font-size="8.6" fill="#333" text-anchor="end" >0.8</text>
<text x="380" y="265" font-size="8.6" fill="#333" text-anchor="end" >1</text>
<text x="380" y="242.9" font-size="8.6" fill="#333" text-anchor="end" >1.2</text>
<text x="380" y="220.8" font-size="8.6" fill="#333" text-anchor="end" >1.4</text>
<text x="388.4" y="388.1" font-size="8.6" fill="#333" text-anchor="middle" >0</text>
<text x="427.3" y="388.1" font-size="8.6" fill="#333" text-anchor="middle" >2</text>
<text x="466.2" y="388.1" font-size="8.6" fill="#333" text-anchor="middle" >4</text>
<text x="505" y="388.1" font-size="8.6" fill="#333" text-anchor="middle" >6</text>
<text x="543.9" y="388.1" font-size="8.6" fill="#333" text-anchor="middle" >8</text>
<text x="582.8" y="388.1" font-size="8.6" fill="#333" text-anchor="middle" >10</text>
<text x="621.7" y="388.1" font-size="8.6" fill="#333" text-anchor="middle" >12</text>
<text x="660.6" y="388.1" font-size="8.6" fill="#333" text-anchor="middle" >14</text>
<text x="476.9" y="222.5" font-size="14.8" fill="#141414" textLength="128.3" lengthAdjust="spacingAndGlyphs" >Frequency Domain</text>
<text x="508.9" y="402" font-size="12.6" fill="#141414" textLength="81.1" lengthAdjust="spacingAndGlyphs" >Frequency (Hz)</text>
<text transform="translate(360.9,345.2) rotate(-90)" font-size="12.6" fill="#141414" textLength="82.3" lengthAdjust="spacingAndGlyphs">Signal Intensity</text>
<polyline points="388.4,243.3 393,278.8 397.5,319.3 402.1,356 406.6,365.2 411.2,361.5 415.7,365.2 420.3,359.1 424.9,368.7 429.4,370.9 434,365.6 438.5,370.9 443.1,369.9 447.6,371.4 452.2,368 456.8,370.4 461.3,371.4 465.9,369.2 470.4,369.5 475,369.5 479.5,371.8 484.1,368.9 488.6,372 493.2,370.4 497.8,369.9 502.3,370.6 506.9,371.1 511.4,371.4 516,371.6 520.5,370.4 525.1,371.4 529.7,371.6 534.2,371.7 538.8,371.9 543.3,371.6 547.9,371.7 552.4,371.7 557,371.8 561.6,371.9 566.1,371.7 570.7,371.8 575.2,371.9 579.8,371.7 584.3,371.8 588.9,372 593.5,371.8 598,372 602.6,371.7 607.1,371.7 611.7,371.8 616.2,371.7 620.8,372 625.4,371.9 629.9,372.1 634.5,371.9 639,372.1 643.6,372.1 648.1,371.9 652.7,372 657.2,372.1 661.8,372 666.4,372 670.9,372 675.5,372.1" fill="none" stroke="#c00000" stroke-width="1.2" stroke-linejoin="round"/>
<path d="M388.4,243.3h0M393,278.8h0M397.5,319.3h0M402.1,356h0M406.6,365.2h0M411.2,361.5h0M415.7,365.2h0M420.3,359.1h0M424.9,368.7h0M429.4,370.9h0M434,365.6h0M438.5,370.9h0M443.1,369.9h0M447.6,371.4h0M452.2,368h0M456.8,370.4h0M461.3,371.4h0M465.9,369.2h0M470.4,369.5h0M475,369.5h0M479.5,371.8h0M484.1,368.9h0M488.6,372h0M493.2,370.4h0M497.8,369.9h0M502.3,370.6h0M506.9,371.1h0M511.4,371.4h0M516,371.6h0M520.5,370.4h0M525.1,371.4h0M529.7,371.6h0M534.2,371.7h0M538.8,371.9h0M543.3,371.6h0M547.9,371.7h0M552.4,371.7h0M557,371.8h0M561.6,371.9h0M566.1,371.7h0M570.7,371.8h0M575.2,371.9h0M579.8,371.7h0M584.3,371.8h0M588.9,372h0M593.5,371.8h0M598,372h0M602.6,371.7h0M607.1,371.7h0M611.7,371.8h0M616.2,371.7h0M620.8,372h0M625.4,371.9h0M629.9,372.1h0M634.5,371.9h0M639,372.1h0M643.6,372.1h0M648.1,371.9h0M652.7,372h0M657.2,372.1h0M661.8,372h0M666.4,372h0M670.9,372h0M675.5,372.1h0" stroke="#c00000" stroke-width="4.4" stroke-linecap="round" fill="none"/>
<path d="M37.2,635.7V806.7M37.2,711.7H334.8" stroke="#626262" stroke-width="1" fill="none"/>
<text x="28.8" y="809.4" font-size="8.6" fill="#333" text-anchor="end" >-50</text>
<text x="28.8" y="790.4" font-size="8.6" fill="#333" text-anchor="end" >-40</text>
<text x="28.8" y="771.4" font-size="8.6" fill="#333" text-anchor="end" >-30</text>
<text x="28.8" y="752.4" font-size="8.6" fill="#333" text-anchor="end" >-20</text>
<text x="28.8" y="733.4" font-size="8.6" fill="#333" text-anchor="end" >-10</text>
<text x="28.8" y="714.4" font-size="8.6" fill="#333" text-anchor="end" >0</text>
<text x="28.8" y="695.4" font-size="8.6" fill="#333" text-anchor="end" >10</text>
<text x="28.8" y="676.4" font-size="8.6" fill="#333" text-anchor="end" >20</text>
<text x="28.8" y="657.4" font-size="8.6" fill="#333" text-anchor="end" >30</text>
<text x="28.8" y="638.4" font-size="8.6" fill="#333" text-anchor="end" >40</text>
<text x="37.2" y="726.5" font-size="8.6" fill="#333" text-anchor="middle" >0</text>
<text x="86.8" y="726.5" font-size="8.6" fill="#333" text-anchor="middle" >2</text>
<text x="136.3" y="726.5" font-size="8.6" fill="#333" text-anchor="middle" >4</text>
<text x="185.9" y="726.5" font-size="8.6" fill="#333" text-anchor="middle" >6</text>
<text x="235.4" y="726.5" font-size="8.6" fill="#333" text-anchor="middle" >8</text>
<text x="285" y="726.5" font-size="8.6" fill="#333" text-anchor="middle" >10</text>
<text x="334.6" y="726.5" font-size="8.6" fill="#333" text-anchor="middle" >12</text>
<text x="129.7" y="642" font-size="14.8" fill="#141414" textLength="89.6" lengthAdjust="spacingAndGlyphs" >Time Domain</text>
<text x="164.3" y="808.8" font-size="12.6" fill="#141414" textLength="43.2" lengthAdjust="spacingAndGlyphs" >Time (s)</text>
<text transform="translate(10.9,762.8) rotate(-90)" font-size="12.6" fill="#141414" textLength="82.8" lengthAdjust="spacingAndGlyphs">Signal Intensity</text>
<polyline points="37.2,720.3 38,720.2 38.9,720 39.7,719.8 40.5,719.7 41.3,719.5 42.2,719.3 43,719.2 43.8,719 44.6,719.3 45.5,720.9 46.3,722.4 47.1,724 47.9,725.5 48.8,726.9 49.6,728.3 50.4,729.6 51.2,731 52.1,731.1 52.9,730.3 53.7,729.5 54.5,727.6 55.4,725.1 56.2,722.6 57,722.3 57.9,722.7 58.7,723.1 59.5,723.5 60.3,723.6 61.2,723.4 62,723.2 62.8,722.9 63.6,722.7 64.5,722.3 65.3,721.8 66.1,721.4 66.9,721 67.8,718.7 68.6,715.6 69.4,712.7 70.2,710 71.1,707.4 71.9,707.1 72.7,709.5 73.5,712 74.4,718.6 75.2,728.3 76,741.8 76.8,754.9 77.7,761 78.5,757.7 79.3,751.2 80.2,743.7 81,734.3 81.8,725.2 82.6,716.3 83.5,704.9 84.3,696.4 85.1,690.1 85.9,686 86.8,682.6 87.6,680.2 88.4,678.2 89.2,679 90.1,679.9 90.9,681 91.7,683.3 92.5,685.6 93.4,689.1 94.2,695.3 95,701.5 95.8,709 96.7,715.6 97.5,718.9 98.3,716.8 99.2,713.2 100,709.6 100.8,706 101.6,702.5 102.5,700.1 103.3,697.8 104.1,698.6 104.9,700.3 105.8,702 106.6,704.1 107.4,706.1 108.2,708.2 109.1,709.2 109.9,709.7 110.7,710.2 111.5,710.7 112.4,711.2 113.2,710.1 114,709.1 114.8,708.1 115.7,706.1 116.5,703.3 117.3,700.6 118.1,703.4 119,706.5 119.8,708.6 120.6,710.2 121.5,711.8 122.3,713.4 123.1,714 123.9,714.5 124.8,715 125.6,715.5 126.4,716 127.2,716.5 128.1,716.7 128.9,716.9 129.7,717.1 130.5,717.3 131.4,717.5 132.2,717.7 133,717.9 133.8,718 134.7,718.1 135.5,718.2 136.3,718.3 137.1,718.4 138,706.4 138.8,687.8 139.6,681.2 140.5,676.6 141.3,673 142.1,670.6 142.9,669 143.8,667.3 144.6,665.4 145.4,663.3 146.2,661.3 147.1,659.5 147.9,657.9 148.7,656.2 149.5,651.8 150.4,648.3 151.2,652.4 152,658.5 152.8,664.7 153.7,670.8 154.5,676 155.3,681.2 156.1,686.3 157,691.5 157.8,696.7 158.6,701.8 159.4,706.9 160.3,711 161.1,715.1 161.9,717.3 162.8,718.8 163.6,715.6 164.4,712.4 165.2,710.8 166.1,709.1 166.9,707.5 167.7,706.3 168.5,705.1 169.4,703.9 170.2,702.6 171,702.1 171.8,704.8 172.7,709 173.5,715.2 174.3,720.9 175.1,726.4 176,725.9 176.8,724.9 177.6,723.9 178.4,722.8 179.3,721.4 180.1,720.1 180.9,718.7 181.8,717.3 182.6,716.3 183.4,715.2 184.2,716.3 185.1,718.6 185.9,721.7 186.7,725.2 187.5,725.4 188.4,722.8 189.2,719.9 190,715.8 190.8,711.6 191.7,708 192.5,704.3 193.3,702 194.1,700.7 195,702.2 195.8,704.2 196.6,706.9 197.4,710.2 198.3,713.5 199.1,716.3 199.9,718.8 200.7,721.3 201.6,723.1 202.4,724.7 203.2,724.8 204.1,722.8 204.9,720.7 205.7,718.9 206.5,717.3 207.4,715.8 208.2,717.2 209,723.1 209.8,735.5 210.7,751.2 211.5,766.6 212.3,780.7 213.1,787.3 214,790.2 214.8,787.5 215.6,782.3 216.4,776.3 217.3,769.1 218.1,762.9 218.9,756.7 219.7,750.1 220.6,742.7 221.4,732.6 222.2,722.7 223.1,716.1 223.9,709.9 224.7,705.4 225.5,701.9 226.4,699.6 227.2,697.7 228,696.9 228.8,696.1 229.7,696.1 230.5,697.1 231.3,698.3 232.1,700.6 233,702.9 233.8,704.7 234.6,706.1 235.4,706.3 236.3,705.1 237.1,703.7 237.9,701.2 238.7,698.7 239.6,696.2 240.4,693.6 241.2,691.1 242,689.8 242.9,689.1 243.7,690.5 244.5,691.8 245.4,692.9 246.2,693.9 247,694.9 247.8,695.9 248.7,698.1 249.5,704.2 250.3,709 251.1,713.6 252,717.8 252.8,720.1 253.6,719.9 254.4,716.2 255.3,710.6 256.1,705.9 256.9,702.4 257.7,700 258.6,699.2 259.4,698.4 260.2,698.3 261,698.7 261.9,699.1 262.7,700.2 263.5,701.7 264.4,703.2 265.2,703.8 266,704.2 266.8,704.6 267.7,705 268.5,705.1 269.3,704.8 270.1,704.6 271,704.3 271.8,704 272.6,704.8 273.4,705.6 274.3,706.3 275.1,707.2 275.9,708.3 276.7,709.4 277.6,710.5 278.4,711.4 279.2,712.2 280,713 280.9,713.8 281.7,714.3 282.5,714.8 283.3,712.8 284.2,710.8 285,714.4 285.8,736.4 286.7,760.7 287.5,771.5 288.3,773.6 289.1,770.6 290,768 290.8,765.7 291.6,760.8 292.4,751.5 293.3,742.1 294.1,733.8 294.9,726.5 295.7,720.6 296.6,715.6 297.4,712 298.2,709 299,706.5 299.9,704.5 300.7,702.5 301.5,700.5 302.3,698.4 303.2,695.9 304,693.1 304.8,689.8 305.7,685.7 306.5,683.5 307.3,685.3 308.1,688.1 309,686.5 309.8,684.6" fill="none" stroke="#c00000" stroke-width="1.2" stroke-linejoin="round"/>
<path d="M37.2,720.3h0M38,720.2h0M38.9,720h0M39.7,719.8h0M40.5,719.7h0M41.3,719.5h0M42.2,719.3h0M43,719.2h0M43.8,719h0M44.6,719.3h0M45.5,720.9h0M46.3,722.4h0M47.1,724h0M47.9,725.5h0M48.8,726.9h0M49.6,728.3h0M50.4,729.6h0M51.2,731h0M52.1,731.1h0M52.9,730.3h0M53.7,729.5h0M54.5,727.6h0M55.4,725.1h0M56.2,722.6h0M57,722.3h0M57.9,722.7h0M58.7,723.1h0M59.5,723.5h0M60.3,723.6h0M61.2,723.4h0M62,723.2h0M62.8,722.9h0M63.6,722.7h0M64.5,722.3h0M65.3,721.8h0M66.1,721.4h0M66.9,721h0M67.8,718.7h0M68.6,715.6h0M69.4,712.7h0M70.2,710h0M71.1,707.4h0M71.9,707.1h0M72.7,709.5h0M73.5,712h0M74.4,718.6h0M75.2,728.3h0M76,741.8h0M76.8,754.9h0M77.7,761h0M78.5,757.7h0M79.3,751.2h0M80.2,743.7h0M81,734.3h0M81.8,725.2h0M82.6,716.3h0M83.5,704.9h0M84.3,696.4h0M85.1,690.1h0M85.9,686h0M86.8,682.6h0M87.6,680.2h0M88.4,678.2h0M89.2,679h0M90.1,679.9h0M90.9,681h0M91.7,683.3h0M92.5,685.6h0M93.4,689.1h0M94.2,695.3h0M95,701.5h0M95.8,709h0M96.7,715.6h0M97.5,718.9h0M98.3,716.8h0M99.2,713.2h0M100,709.6h0M100.8,706h0M101.6,702.5h0M102.5,700.1h0M103.3,697.8h0M104.1,698.6h0M104.9,700.3h0M105.8,702h0M106.6,704.1h0M107.4,706.1h0M108.2,708.2h0M109.1,709.2h0M109.9,709.7h0M110.7,710.2h0M111.5,710.7h0M112.4,711.2h0M113.2,710.1h0M114,709.1h0M114.8,708.1h0M115.7,706.1h0M116.5,703.3h0M117.3,700.6h0M118.1,703.4h0M119,706.5h0M119.8,708.6h0M120.6,710.2h0M121.5,711.8h0M122.3,713.4h0M123.1,714h0M123.9,714.5h0M124.8,715h0M125.6,715.5h0M126.4,716h0M127.2,716.5h0M128.1,716.7h0M128.9,716.9h0M129.7,717.1h0M130.5,717.3h0M131.4,717.5h0M132.2,717.7h0M133,717.9h0M133.8,718h0M134.7,718.1h0M135.5,718.2h0M136.3,718.3h0M137.1,718.4h0M138,706.4h0M138.8,687.8h0M139.6,681.2h0M140.5,676.6h0M141.3,673h0M142.1,670.6h0M142.9,669h0M143.8,667.3h0M144.6,665.4h0M145.4,663.3h0M146.2,661.3h0M147.1,659.5h0M147.9,657.9h0M148.7,656.2h0M149.5,651.8h0M150.4,648.3h0M151.2,652.4h0M152,658.5h0M152.8,664.7h0M153.7,670.8h0M154.5,676h0M155.3,681.2h0M156.1,686.3h0M157,691.5h0M157.8,696.7h0M158.6,701.8h0M159.4,706.9h0M160.3,711h0M161.1,715.1h0M161.9,717.3h0M162.8,718.8h0M163.6,715.6h0M164.4,712.4h0M165.2,710.8h0M166.1,709.1h0M166.9,707.5h0M167.7,706.3h0M168.5,705.1h0M169.4,703.9h0M170.2,702.6h0M171,702.1h0M171.8,704.8h0M172.7,709h0M173.5,715.2h0M174.3,720.9h0M175.1,726.4h0M176,725.9h0M176.8,724.9h0M177.6,723.9h0M178.4,722.8h0M179.3,721.4h0M180.1,720.1h0M180.9,718.7h0M181.8,717.3h0M182.6,716.3h0M183.4,715.2h0M184.2,716.3h0M185.1,718.6h0M185.9,721.7h0M186.7,725.2h0M187.5,725.4h0M188.4,722.8h0M189.2,719.9h0M190,715.8h0M190.8,711.6h0M191.7,708h0M192.5,704.3h0M193.3,702h0M194.1,700.7h0M195,702.2h0M195.8,704.2h0M196.6,706.9h0M197.4,710.2h0M198.3,713.5h0M199.1,716.3h0M199.9,718.8h0M200.7,721.3h0M201.6,723.1h0M202.4,724.7h0M203.2,724.8h0M204.1,722.8h0M204.9,720.7h0M205.7,718.9h0M206.5,717.3h0M207.4,715.8h0M208.2,717.2h0M209,723.1h0M209.8,735.5h0M210.7,751.2h0M211.5,766.6h0M212.3,780.7h0M213.1,787.3h0M214,790.2h0M214.8,787.5h0M215.6,782.3h0M216.4,776.3h0M217.3,769.1h0M218.1,762.9h0M218.9,756.7h0M219.7,750.1h0M220.6,742.7h0M221.4,732.6h0M222.2,722.7h0M223.1,716.1h0M223.9,709.9h0M224.7,705.4h0M225.5,701.9h0M226.4,699.6h0M227.2,697.7h0M228,696.9h0M228.8,696.1h0M229.7,696.1h0M230.5,697.1h0M231.3,698.3h0M232.1,700.6h0M233,702.9h0M233.8,704.7h0M234.6,706.1h0M235.4,706.3h0M236.3,705.1h0M237.1,703.7h0M237.9,701.2h0M238.7,698.7h0M239.6,696.2h0M240.4,693.6h0M241.2,691.1h0M242,689.8h0M242.9,689.1h0M243.7,690.5h0M244.5,691.8h0M245.4,692.9h0M246.2,693.9h0M247,694.9h0M247.8,695.9h0M248.7,698.1h0M249.5,704.2h0M250.3,709h0M251.1,713.6h0M252,717.8h0M252.8,720.1h0M253.6,719.9h0M254.4,716.2h0M255.3,710.6h0M256.1,705.9h0M256.9,702.4h0M257.7,700h0M258.6,699.2h0M259.4,698.4h0M260.2,698.3h0M261,698.7h0M261.9,699.1h0M262.7,700.2h0M263.5,701.7h0M264.4,703.2h0M265.2,703.8h0M266,704.2h0M266.8,704.6h0M267.7,705h0M268.5,705.1h0M269.3,704.8h0M270.1,704.6h0M271,704.3h0M271.8,704h0M272.6,704.8h0M273.4,705.6h0M274.3,706.3h0M275.1,707.2h0M275.9,708.3h0M276.7,709.4h0M277.6,710.5h0M278.4,711.4h0M279.2,712.2h0M280,713h0M280.9,713.8h0M281.7,714.3h0M282.5,714.8h0M283.3,712.8h0M284.2,710.8h0M285,714.4h0M285.8,736.4h0M286.7,760.7h0M287.5,771.5h0M288.3,773.6h0M289.1,770.6h0M290,768h0M290.8,765.7h0M291.6,760.8h0M292.4,751.5h0M293.3,742.1h0M294.1,733.8h0M294.9,726.5h0M295.7,720.6h0M296.6,715.6h0M297.4,712h0M298.2,709h0M299,706.5h0M299.9,704.5h0M300.7,702.5h0M301.5,700.5h0M302.3,698.4h0M303.2,695.9h0M304,693.1h0M304.8,689.8h0M305.7,685.7h0M306.5,683.5h0M307.3,685.3h0M308.1,688.1h0M309,686.5h0M309.8,684.6h0" stroke="#c00000" stroke-width="4.4" stroke-linecap="round" fill="none"/>
<path d="M391.3,633.7V786.1M391.3,786.1H686" stroke="#626262" stroke-width="1" fill="none"/>
<text x="382.4" y="788.8" font-size="8.6" fill="#333" text-anchor="end" >0</text>
<text x="382.4" y="771.9" font-size="8.6" fill="#333" text-anchor="end" >1</text>
<text x="382.4" y="754.9" font-size="8.6" fill="#333" text-anchor="end" >2</text>
<text x="382.4" y="738" font-size="8.6" fill="#333" text-anchor="end" >3</text>
<text x="382.4" y="721.1" font-size="8.6" fill="#333" text-anchor="end" >4</text>
<text x="382.4" y="704.2" font-size="8.6" fill="#333" text-anchor="end" >5</text>
<text x="382.4" y="687.2" font-size="8.6" fill="#333" text-anchor="end" >6</text>
<text x="382.4" y="670.3" font-size="8.6" fill="#333" text-anchor="end" >7</text>
<text x="382.4" y="653.4" font-size="8.6" fill="#333" text-anchor="end" >8</text>
<text x="382.4" y="636.4" font-size="8.6" fill="#333" text-anchor="end" >9</text>
<text x="391.3" y="801.8" font-size="8.6" fill="#333" text-anchor="middle" >0</text>
<text x="428.1" y="801.8" font-size="8.6" fill="#333" text-anchor="middle" >2</text>
<text x="465" y="801.8" font-size="8.6" fill="#333" text-anchor="middle" >4</text>
<text x="501.8" y="801.8" font-size="8.6" fill="#333" text-anchor="middle" >6</text>
<text x="538.7" y="801.8" font-size="8.6" fill="#333" text-anchor="middle" >8</text>
<text x="575.5" y="801.8" font-size="8.6" fill="#333" text-anchor="middle" >10</text>
<text x="612.3" y="801.8" font-size="8.6" fill="#333" text-anchor="middle" >12</text>
<text x="649.2" y="801.8" font-size="8.6" fill="#333" text-anchor="middle" >14</text>
<text x="686" y="801.8" font-size="8.6" fill="#333" text-anchor="middle" >16</text>
<text x="480.7" y="639" font-size="14.8" fill="#141414" textLength="128" lengthAdjust="spacingAndGlyphs" >Frequency Domain</text>
<text x="505.8" y="819.5" font-size="12.6" fill="#141414" textLength="82.1" lengthAdjust="spacingAndGlyphs" >Frequency (Hz)</text>
<text transform="translate(369.8,756.8) rotate(-90)" font-size="12.6" fill="#141414" textLength="82.8" lengthAdjust="spacingAndGlyphs">Signal Intensity</text>
<polyline points="391.3,672.8 393.5,698.7 395.7,698.7 398,678.9 400.2,672.2 402.4,652.5 404.6,726.3 406.8,691.6 409,758 411.3,767 413.5,711.8 415.7,734.1 417.9,773.2 420.1,741.7 422.3,758.8 424.6,753.3 426.8,750.2 429,768.8 431.2,765.3 433.4,781.4 435.7,775.6 437.9,762.4 440.1,777.6 442.3,785.1 444.5,772.4 446.7,783.2 449,784.4 451.2,769.3 453.4,784.4 455.6,784.9 457.8,783.2 460.1,782 462.3,777.6 464.5,782 466.7,782.7 468.9,783.2 471.1,782.7 473.4,782 475.6,779 477.8,780.9 480,783.2 482.2,784.4 484.4,785.1 486.7,782 488.9,782 491.1,784.4 493.3,785.1 495.5,783.7 497.8,785.1 500,783.2 502.2,785.1 504.4,785.6 506.6,785.1 508.8,785.1 511.1,785.3 513.3,785.2 515.5,785 517.7,785 519.9,785.4 522.1,785.3 524.4,785.4 526.6,785.2 528.8,785.4 531,785.2 533.2,785.2 535.5,785.3 537.7,785.2 539.9,785.2 542.1,785.5 544.3,785.2 546.5,785.4 548.8,785.3 551,785.4 553.2,785.2 555.4,785.3 557.6,785.4 559.9,785.3 562.1,785.2 564.3,785.4 566.5,785.4 568.7,785.3 570.9,785.1 573.2,785.1 575.4,785.2 577.6,785.2 579.8,785.2 582,785.4 584.2,785.5 586.5,785.3 588.7,785.3 590.9,785.4 593.1,785.4 595.3,785.4 597.6,785.4 599.8,785.4 602,785.4 604.2,785.4 606.4,785.2 608.6,785.3 610.9,785.4 613.1,785.5 615.3,785.4 617.5,785.5 619.7,785.5 621.9,785.4 624.2,785.5 626.4,785.4 628.6,785.4 630.8,785.3 633,785.3 635.3,785.4 637.5,785.4 639.7,785.5 641.9,785.4 644.1,785.5 646.3,785.4 648.6,785.5 650.8,785.5 653,785.6 655.2,785.5 657.4,785.3 659.6,785.5 661.9,785.4 664.1,785.4" fill="none" stroke="#c00000" stroke-width="1.2" stroke-linejoin="round"/>
<path d="M391.3,672.8h0M393.5,698.7h0M395.7,698.7h0M398,678.9h0M400.2,672.2h0M402.4,652.5h0M404.6,726.3h0M406.8,691.6h0M409,758h0M411.3,767h0M413.5,711.8h0M415.7,734.1h0M417.9,773.2h0M420.1,741.7h0M422.3,758.8h0M424.6,753.3h0M426.8,750.2h0M429,768.8h0M431.2,765.3h0M433.4,781.4h0M435.7,775.6h0M437.9,762.4h0M440.1,777.6h0M442.3,785.1h0M444.5,772.4h0M446.7,783.2h0M449,784.4h0M451.2,769.3h0M453.4,784.4h0M455.6,784.9h0M457.8,783.2h0M460.1,782h0M462.3,777.6h0M464.5,782h0M466.7,782.7h0M468.9,783.2h0M471.1,782.7h0M473.4,782h0M475.6,779h0M477.8,780.9h0M480,783.2h0M482.2,784.4h0M484.4,785.1h0M486.7,782h0M488.9,782h0M491.1,784.4h0M493.3,785.1h0M495.5,783.7h0M497.8,785.1h0M500,783.2h0M502.2,785.1h0M504.4,785.6h0M506.6,785.1h0M508.8,785.1h0M511.1,785.3h0M513.3,785.2h0M515.5,785h0M517.7,785h0M519.9,785.4h0M522.1,785.3h0M524.4,785.4h0M526.6,785.2h0M528.8,785.4h0M531,785.2h0M533.2,785.2h0M535.5,785.3h0M537.7,785.2h0M539.9,785.2h0M542.1,785.5h0M544.3,785.2h0M546.5,785.4h0M548.8,785.3h0M551,785.4h0M553.2,785.2h0M555.4,785.3h0M557.6,785.4h0M559.9,785.3h0M562.1,785.2h0M564.3,785.4h0M566.5,785.4h0M568.7,785.3h0M570.9,785.1h0M573.2,785.1h0M575.4,785.2h0M577.6,785.2h0M579.8,785.2h0M582,785.4h0M584.2,785.5h0M586.5,785.3h0M588.7,785.3h0M590.9,785.4h0M593.1,785.4h0M595.3,785.4h0M597.6,785.4h0M599.8,785.4h0M602,785.4h0M604.2,785.4h0M606.4,785.2h0M608.6,785.3h0M610.9,785.4h0M613.1,785.5h0M615.3,785.4h0M617.5,785.5h0M619.7,785.5h0M621.9,785.4h0M624.2,785.5h0M626.4,785.4h0M628.6,785.4h0M630.8,785.3h0M633,785.3h0M635.3,785.4h0M637.5,785.4h0M639.7,785.5h0M641.9,785.4h0M644.1,785.5h0M646.3,785.4h0M648.6,785.5h0M650.8,785.5h0M653,785.6h0M655.2,785.5h0M657.4,785.3h0M659.6,785.5h0M661.9,785.4h0M664.1,785.4h0" stroke="#c00000" stroke-width="4.2" stroke-linecap="round" fill="none"/>
<path d="M37.2,1053.4V1229.3M37.2,1128.8H338.5" stroke="#626262" stroke-width="1" fill="none"/>
<text x="28.8" y="1232" font-size="8.6" fill="#333" text-anchor="end" >-40</text>
<text x="28.8" y="1206.9" font-size="8.6" fill="#333" text-anchor="end" >-30</text>
<text x="28.8" y="1181.8" font-size="8.6" fill="#333" text-anchor="end" >-20</text>
<text x="28.8" y="1156.6" font-size="8.6" fill="#333" text-anchor="end" >-10</text>
<text x="28.8" y="1131.5" font-size="8.6" fill="#333" text-anchor="end" >0</text>
<text x="28.8" y="1106.4" font-size="8.6" fill="#333" text-anchor="end" >10</text>
<text x="28.8" y="1081.2" font-size="8.6" fill="#333" text-anchor="end" >20</text>
<text x="28.8" y="1056.1" font-size="8.6" fill="#333" text-anchor="end" >30</text>
<text x="37.2" y="1143.8" font-size="8.6" fill="#333" text-anchor="middle" >0</text>
<text x="74.8" y="1143.8" font-size="8.6" fill="#333" text-anchor="middle" >1</text>
<text x="112.4" y="1143.8" font-size="8.6" fill="#333" text-anchor="middle" >2</text>
<text x="150" y="1143.8" font-size="8.6" fill="#333" text-anchor="middle" >3</text>
<text x="187.6" y="1143.8" font-size="8.6" fill="#333" text-anchor="middle" >4</text>
<text x="225.2" y="1143.8" font-size="8.6" fill="#333" text-anchor="middle" >5</text>
<text x="262.8" y="1143.8" font-size="8.6" fill="#333" text-anchor="middle" >6</text>
<text x="300.4" y="1143.8" font-size="8.6" fill="#333" text-anchor="middle" >7</text>
<text x="338" y="1143.8" font-size="8.6" fill="#333" text-anchor="middle" >8</text>
<text x="136.3" y="1058" font-size="14.8" fill="#141414" textLength="90" lengthAdjust="spacingAndGlyphs" >Time Domain</text>
<text x="165.7" y="1173.7" font-size="12.6" fill="#141414" textLength="42.9" lengthAdjust="spacingAndGlyphs" >Time (s)</text>
<text transform="translate(12.1,1166.2) rotate(-90)" font-size="12.6" fill="#141414" textLength="82.8" lengthAdjust="spacingAndGlyphs">Signal Intensity</text>
<polyline points="37.2,1130.5 38.5,1130.5 39.7,1130.5 41,1130.5 42.2,1130.5 43.5,1130.4 44.7,1130.1 46,1129.7 47.2,1129.4 48.5,1130.4 49.7,1131.9 51,1133.4 52.2,1134.9 53.5,1136.4 54.7,1137 56,1137.7 57.3,1136.8 58.5,1135.2 59.8,1133.3 61,1130.4 62.3,1127.9 63.5,1126.4 64.8,1125 66,1126.4 67.3,1128 68.5,1130.6 69.8,1133.2 71,1134.8 72.3,1136.1 73.5,1136.7 74.8,1135.9 76.1,1135.1 77.3,1134.2 78.6,1133.4 79.8,1132.5 81.1,1131.3 82.3,1129.7 83.6,1127.1 84.8,1123.9 86.1,1122.2 87.3,1121.1 88.6,1122.4 89.8,1126.4 91.1,1134.7 92.3,1145.5 93.6,1162.4 94.9,1179.2 96.1,1191.1 97.4,1192.1 98.6,1181 99.9,1162.8 101.1,1139.1 102.4,1111.2 103.6,1087.8 104.9,1073.8 106.1,1070.4 107.4,1073.5 108.6,1078.9 109.9,1087.5 111.1,1097.5 112.4,1107.3 113.7,1116.8 114.9,1126 116.2,1134.3 117.4,1140.4 118.7,1142.5 119.9,1140.3 121.2,1137.8 122.4,1135.4 123.7,1134.1 124.9,1133.3 126.2,1132.4 127.4,1131.2 128.7,1128.7 129.9,1122.4 131.2,1118.8 132.5,1115.4 133.7,1113.3 135,1111.3 136.2,1112.7 137.5,1114.6 138.7,1119.9 140,1125 141.2,1130 142.5,1133.5 143.7,1136.4 145,1136.2 146.2,1135.1 147.5,1133 148.7,1130.7 150,1128.4 151.3,1126.2 152.5,1124 153.8,1122.1 155,1120.2 156.3,1118.8 157.5,1118 158.8,1121.1 160,1124.6 161.3,1129 162.5,1132.4 163.8,1134.6 165,1136.9 166.3,1136 167.5,1134.9 168.8,1133 170.1,1130.6 171.3,1128.6 172.6,1127.3 173.8,1126.1 175.1,1125.3 176.3,1125 177.6,1126.2 178.8,1127.4 180.1,1128.7 181.3,1129.5 182.6,1130.1 183.8,1130.6 185.1,1130.7 186.3,1130.7 187.6,1130.7 188.9,1122.5 190.1,1110.6 191.4,1105.2 192.6,1102.7 193.9,1102 195.1,1104.3 196.4,1107.2 197.6,1110.4 198.9,1112.5 200.1,1114.4 201.4,1114.2 202.6,1113.7 203.9,1111.6 205.1,1108.5 206.4,1105 207.7,1102.2 208.9,1104 210.2,1108.4 211.4,1114.3 212.7,1121.4 213.9,1127 215.2,1131.8 216.4,1135.8 217.7,1137.9 218.9,1139.8 220.2,1139.6 221.4,1139.2 222.7,1136.7 223.9,1133.5 225.2,1129 226.5,1123.5 227.7,1118 229,1112.6 230.2,1109.9 231.5,1107.5 232.7,1108.7 234,1110.1 235.2,1112.2 236.5,1114.3 237.7,1116.2 239,1118.1 240.2,1123 241.5,1132 242.7,1146.1 244,1157.5 245.3,1162.1 246.5,1159.8 247.8,1152.4 249,1144.3 250.3,1136.9 251.5,1127.6 252.8,1119.8 254,1114.3 255.3,1110.8 256.5,1110.8 257.8,1112.6 259,1116.5 260.3,1123.3 261.5,1130 262.8,1135.9 264.1,1140.3 265.3,1139 266.6,1134.5 267.8,1129.1 269.1,1122.8 270.3,1116.6 271.6,1111 272.8,1107.1 274.1,1108.1 275.3,1111.2 276.6,1116.6 277.8,1122.8 279.1,1129.7 280.3,1136.6 281.6,1142.6 282.9,1146 284.1,1147.3 285.4,1146.9 286.6,1144.2 287.9,1140.3 289.1,1135.5 290.4,1130.3 291.6,1125.1 292.9,1120.5 294.1,1118 295.4,1119.1 296.6,1123.4 297.9,1132.4 299.1,1153.6 300.4,1182.3 301.7,1203.9 302.9,1213 304.2,1213 305.4,1207.5 306.7,1192.8 307.9,1169.6 309.2,1144.1 310.4,1121.7 311.7,1105.2 312.9,1095.4 314.2,1092 315.4,1093.2 316.7,1097.3 317.9,1103.3 319.2,1110.8 320.5,1118.6 321.7,1125.4 323,1131.1 324.2,1135.1 325.5,1136.8 326.7,1135.8 328,1133.8 329.2,1130.6 330.5,1129.3 331.7,1128.5 333,1129.6 334.2,1130.1 335.5,1129.8 336.7,1128.2 338,1126.3" fill="none" stroke="#c00000" stroke-width="1.2" stroke-linejoin="round"/>
<path d="M37.2,1130.5h0M38.5,1130.5h0M39.7,1130.5h0M41,1130.5h0M42.2,1130.5h0M43.5,1130.4h0M44.7,1130.1h0M46,1129.7h0M47.2,1129.4h0M48.5,1130.4h0M49.7,1131.9h0M51,1133.4h0M52.2,1134.9h0M53.5,1136.4h0M54.7,1137h0M56,1137.7h0M57.3,1136.8h0M58.5,1135.2h0M59.8,1133.3h0M61,1130.4h0M62.3,1127.9h0M63.5,1126.4h0M64.8,1125h0M66,1126.4h0M67.3,1128h0M68.5,1130.6h0M69.8,1133.2h0M71,1134.8h0M72.3,1136.1h0M73.5,1136.7h0M74.8,1135.9h0M76.1,1135.1h0M77.3,1134.2h0M78.6,1133.4h0M79.8,1132.5h0M81.1,1131.3h0M82.3,1129.7h0M83.6,1127.1h0M84.8,1123.9h0M86.1,1122.2h0M87.3,1121.1h0M88.6,1122.4h0M89.8,1126.4h0M91.1,1134.7h0M92.3,1145.5h0M93.6,1162.4h0M94.9,1179.2h0M96.1,1191.1h0M97.4,1192.1h0M98.6,1181h0M99.9,1162.8h0M101.1,1139.1h0M102.4,1111.2h0M103.6,1087.8h0M104.9,1073.8h0M106.1,1070.4h0M107.4,1073.5h0M108.6,1078.9h0M109.9,1087.5h0M111.1,1097.5h0M112.4,1107.3h0M113.7,1116.8h0M114.9,1126h0M116.2,1134.3h0M117.4,1140.4h0M118.7,1142.5h0M119.9,1140.3h0M121.2,1137.8h0M122.4,1135.4h0M123.7,1134.1h0M124.9,1133.3h0M126.2,1132.4h0M127.4,1131.2h0M128.7,1128.7h0M129.9,1122.4h0M131.2,1118.8h0M132.5,1115.4h0M133.7,1113.3h0M135,1111.3h0M136.2,1112.7h0M137.5,1114.6h0M138.7,1119.9h0M140,1125h0M141.2,1130h0M142.5,1133.5h0M143.7,1136.4h0M145,1136.2h0M146.2,1135.1h0M147.5,1133h0M148.7,1130.7h0M150,1128.4h0M151.3,1126.2h0M152.5,1124h0M153.8,1122.1h0M155,1120.2h0M156.3,1118.8h0M157.5,1118h0M158.8,1121.1h0M160,1124.6h0M161.3,1129h0M162.5,1132.4h0M163.8,1134.6h0M165,1136.9h0M166.3,1136h0M167.5,1134.9h0M168.8,1133h0M170.1,1130.6h0M171.3,1128.6h0M172.6,1127.3h0M173.8,1126.1h0M175.1,1125.3h0M176.3,1125h0M177.6,1126.2h0M178.8,1127.4h0M180.1,1128.7h0M181.3,1129.5h0M182.6,1130.1h0M183.8,1130.6h0M185.1,1130.7h0M186.3,1130.7h0M187.6,1130.7h0M188.9,1122.5h0M190.1,1110.6h0M191.4,1105.2h0M192.6,1102.7h0M193.9,1102h0M195.1,1104.3h0M196.4,1107.2h0M197.6,1110.4h0M198.9,1112.5h0M200.1,1114.4h0M201.4,1114.2h0M202.6,1113.7h0M203.9,1111.6h0M205.1,1108.5h0M206.4,1105h0M207.7,1102.2h0M208.9,1104h0M210.2,1108.4h0M211.4,1114.3h0M212.7,1121.4h0M213.9,1127h0M215.2,1131.8h0M216.4,1135.8h0M217.7,1137.9h0M218.9,1139.8h0M220.2,1139.6h0M221.4,1139.2h0M222.7,1136.7h0M223.9,1133.5h0M225.2,1129h0M226.5,1123.5h0M227.7,1118h0M229,1112.6h0M230.2,1109.9h0M231.5,1107.5h0M232.7,1108.7h0M234,1110.1h0M235.2,1112.2h0M236.5,1114.3h0M237.7,1116.2h0M239,1118.1h0M240.2,1123h0M241.5,1132h0M242.7,1146.1h0M244,1157.5h0M245.3,1162.1h0M246.5,1159.8h0M247.8,1152.4h0M249,1144.3h0M250.3,1136.9h0M251.5,1127.6h0M252.8,1119.8h0M254,1114.3h0M255.3,1110.8h0M256.5,1110.8h0M257.8,1112.6h0M259,1116.5h0M260.3,1123.3h0M261.5,1130h0M262.8,1135.9h0M264.1,1140.3h0M265.3,1139h0M266.6,1134.5h0M267.8,1129.1h0M269.1,1122.8h0M270.3,1116.6h0M271.6,1111h0M272.8,1107.1h0M274.1,1108.1h0M275.3,1111.2h0M276.6,1116.6h0M277.8,1122.8h0M279.1,1129.7h0M280.3,1136.6h0M281.6,1142.6h0M282.9,1146h0M284.1,1147.3h0M285.4,1146.9h0M286.6,1144.2h0M287.9,1140.3h0M289.1,1135.5h0M290.4,1130.3h0M291.6,1125.1h0M292.9,1120.5h0M294.1,1118h0M295.4,1119.1h0M296.6,1123.4h0M297.9,1132.4h0M299.1,1153.6h0M300.4,1182.3h0M301.7,1203.9h0M302.9,1213h0M304.2,1213h0M305.4,1207.5h0M306.7,1192.8h0M307.9,1169.6h0M309.2,1144.1h0M310.4,1121.7h0M311.7,1105.2h0M312.9,1095.4h0M314.2,1092h0M315.4,1093.2h0M316.7,1097.3h0M317.9,1103.3h0M319.2,1110.8h0M320.5,1118.6h0M321.7,1125.4h0M323,1131.1h0M324.2,1135.1h0M325.5,1136.8h0M326.7,1135.8h0M328,1133.8h0M329.2,1130.6h0M330.5,1129.3h0M331.7,1128.5h0M333,1129.6h0M334.2,1130.1h0M335.5,1129.8h0M336.7,1128.2h0M338,1126.3h0" stroke="#c00000" stroke-width="4.4" stroke-linecap="round" fill="none"/>
<path d="M388.6,1049.8V1204.6M388.6,1204.6H689" stroke="#626262" stroke-width="1" fill="none"/>
<text x="380.5" y="1207.3" font-size="8.6" fill="#333" text-anchor="end" >0</text>
<text x="380.5" y="1188" font-size="8.6" fill="#333" text-anchor="end" >0.5</text>
<text x="380.5" y="1168.6" font-size="8.6" fill="#333" text-anchor="end" >1</text>
<text x="380.5" y="1149.2" font-size="8.6" fill="#333" text-anchor="end" >1.5</text>
<text x="380.5" y="1129.9" font-size="8.6" fill="#333" text-anchor="end" >2</text>
<text x="380.5" y="1110.5" font-size="8.6" fill="#333" text-anchor="end" >2.5</text>
<text x="380.5" y="1091.2" font-size="8.6" fill="#333" text-anchor="end" >3</text>
<text x="380.5" y="1071.8" font-size="8.6" fill="#333" text-anchor="end" >3.5</text>
<text x="380.5" y="1052.5" font-size="8.6" fill="#333" text-anchor="end" >4</text>
<text x="388.6" y="1219.8" font-size="8.6" fill="#333" text-anchor="middle" >0</text>
<text x="428.7" y="1219.8" font-size="8.6" fill="#333" text-anchor="middle" >2</text>
<text x="468.8" y="1219.8" font-size="8.6" fill="#333" text-anchor="middle" >4</text>
<text x="508.8" y="1219.8" font-size="8.6" fill="#333" text-anchor="middle" >6</text>
<text x="548.9" y="1219.8" font-size="8.6" fill="#333" text-anchor="middle" >8</text>
<text x="589" y="1219.8" font-size="8.6" fill="#333" text-anchor="middle" >10</text>
<text x="629.1" y="1219.8" font-size="8.6" fill="#333" text-anchor="middle" >12</text>
<text x="669.2" y="1219.8" font-size="8.6" fill="#333" text-anchor="middle" >14</text>
<text x="482.3" y="1057.7" font-size="14.8" fill="#141414" textLength="127.4" lengthAdjust="spacingAndGlyphs" >Frequency Domain</text>
<text x="498.3" y="1235.3" font-size="12.6" fill="#141414" textLength="84.7" lengthAdjust="spacingAndGlyphs" >Frequency (Hz)</text>
<text transform="translate(365,1166.2) rotate(-90)" font-size="12.6" fill="#141414" textLength="82.8" lengthAdjust="spacingAndGlyphs">Signal Intensity</text>
<polyline points="388.6,1194.2 390.9,1126 393.3,1146.2 395.6,1140 398,1119.5 400.3,1131.5 402.7,1144.2 405,1168.6 407.4,1089.3 409.7,1145.8 412.1,1154.3 414.4,1144.6 416.8,1081.1 419.1,1138.4 421.5,1060.2 423.8,1075.3 426.2,1073.8 428.5,1104 430.9,1164 433.2,1120.6 435.6,1162 437.9,1172.9 440.3,1138 442.6,1167.4 445,1196.9 447.3,1170.9 449.7,1194.5 452,1196.9 454.4,1170.9 456.7,1203.8 459.1,1193.8 461.4,1193.8 463.8,1193.4 466.1,1189.1 468.5,1199.2 470.8,1193.8 473.2,1203.1 475.5,1202.7 477.9,1200 480.2,1195.7 482.5,1201.5 484.9,1200 487.2,1201.1 489.6,1204.2 491.9,1201.1 494.3,1200 496.6,1204.2 499,1201.9 501.3,1203.4 503.7,1202.7 506,1202.3 508.4,1201.9 510.7,1202.3 513.1,1203.4 515.4,1204.2 517.8,1203.8 520.1,1202.3 522.5,1203.8 524.8,1203.1 527.2,1202.3 529.5,1203.4 531.9,1203.1 534.2,1203.4 536.6,1203.1 538.9,1203.3 541.3,1203.3 543.6,1203.6 546,1203.1 548.3,1203.7 550.7,1203.6 553,1203.5 555.4,1203.3 557.7,1203.6 560.1,1203.3 562.4,1203.2 564.8,1203.7 567.1,1203.4 569.4,1203.8 571.8,1203.6 574.1,1203.8 576.5,1203.3 578.8,1203.6 581.2,1203.3 583.5,1203.4 585.9,1203.3 588.2,1203.7 590.6,1203.8 592.9,1203.5 595.3,1203.7 597.6,1203.5 600,1203.6 602.3,1203.6 604.7,1203.4 607,1203.6 609.4,1203.8 611.7,1203.8 614.1,1203.6 616.4,1203.6 618.8,1203.6 621.1,1203.7 623.5,1203.6 625.8,1203.7 628.2,1203.6 630.5,1203.5 632.9,1203.8 635.2,1203.7 637.6,1203.7 639.9,1203.6 642.3,1203.8 644.6,1203.6 647,1203.6 649.3,1203.5 651.7,1203.7 654,1203.6 656.4,1203.8 658.7,1203.7 661,1203.8 663.4,1203.5 665.7,1203.7 668.1,1203.6 670.4,1203.7 672.8,1203.6 675.1,1203.8 677.5,1203.8 679.8,1203.7 682.2,1203.6 684.5,1203.6 686.9,1203.7" fill="none" stroke="#c00000" stroke-width="1.2" stroke-linejoin="round"/>
<path d="M388.6,1194.2h0M390.9,1126h0M393.3,1146.2h0M395.6,1140h0M398,1119.5h0M400.3,1131.5h0M402.7,1144.2h0M405,1168.6h0M407.4,1089.3h0M409.7,1145.8h0M412.1,1154.3h0M414.4,1144.6h0M416.8,1081.1h0M419.1,1138.4h0M421.5,1060.2h0M423.8,1075.3h0M426.2,1073.8h0M428.5,1104h0M430.9,1164h0M433.2,1120.6h0M435.6,1162h0M437.9,1172.9h0M440.3,1138h0M442.6,1167.4h0M445,1196.9h0M447.3,1170.9h0M449.7,1194.5h0M452,1196.9h0M454.4,1170.9h0M456.7,1203.8h0M459.1,1193.8h0M461.4,1193.8h0M463.8,1193.4h0M466.1,1189.1h0M468.5,1199.2h0M470.8,1193.8h0M473.2,1203.1h0M475.5,1202.7h0M477.9,1200h0M480.2,1195.7h0M482.5,1201.5h0M484.9,1200h0M487.2,1201.1h0M489.6,1204.2h0M491.9,1201.1h0M494.3,1200h0M496.6,1204.2h0M499,1201.9h0M501.3,1203.4h0M503.7,1202.7h0M506,1202.3h0M508.4,1201.9h0M510.7,1202.3h0M513.1,1203.4h0M515.4,1204.2h0M517.8,1203.8h0M520.1,1202.3h0M522.5,1203.8h0M524.8,1203.1h0M527.2,1202.3h0M529.5,1203.4h0M531.9,1203.1h0M534.2,1203.4h0M536.6,1203.1h0M538.9,1203.3h0M541.3,1203.3h0M543.6,1203.6h0M546,1203.1h0M548.3,1203.7h0M550.7,1203.6h0M553,1203.5h0M555.4,1203.3h0M557.7,1203.6h0M560.1,1203.3h0M562.4,1203.2h0M564.8,1203.7h0M567.1,1203.4h0M569.4,1203.8h0M571.8,1203.6h0M574.1,1203.8h0M576.5,1203.3h0M578.8,1203.6h0M581.2,1203.3h0M583.5,1203.4h0M585.9,1203.3h0M588.2,1203.7h0M590.6,1203.8h0M592.9,1203.5h0M595.3,1203.7h0M597.6,1203.5h0M600,1203.6h0M602.3,1203.6h0M604.7,1203.4h0M607,1203.6h0M609.4,1203.8h0M611.7,1203.8h0M614.1,1203.6h0M616.4,1203.6h0M618.8,1203.6h0M621.1,1203.7h0M623.5,1203.6h0M625.8,1203.7h0M628.2,1203.6h0M630.5,1203.5h0M632.9,1203.8h0M635.2,1203.7h0M637.6,1203.7h0M639.9,1203.6h0M642.3,1203.8h0M644.6,1203.6h0M647,1203.6h0M649.3,1203.5h0M651.7,1203.7h0M654,1203.6h0M656.4,1203.8h0M658.7,1203.7h0M661,1203.8h0M663.4,1203.5h0M665.7,1203.7h0M668.1,1203.6h0M670.4,1203.7h0M672.8,1203.6h0M675.1,1203.8h0M677.5,1203.8h0M679.8,1203.7h0M682.2,1203.6h0M684.5,1203.6h0M686.9,1203.7h0" stroke="#c00000" stroke-width="4.2" stroke-linecap="round" fill="none"/>
<path d="M471.7,682.9L412.9,650.5" stroke="#000" stroke-width="1.1" fill="none"/><path d="M407.6,647.6L414.1,648.2L411.6,652.8Z" fill="#000"/>
<path d="M471.7,729.9L429.9,711.7" stroke="#000" stroke-width="1.1" fill="none"/><path d="M424.4,709.3L430.9,709.3L428.9,714.1Z" fill="#000"/>
<rect x="471.6" y="683.2" width="124.5" height="24" fill="#fff" stroke="#7f7f7f" stroke-width="1"/>
<rect x="610" y="684" width="128.4" height="24.3" fill="#fff" stroke="#7f7f7f" stroke-width="1"/>
<rect x="471.6" y="718.8" width="169" height="22.4" fill="#fff" stroke="#7f7f7f" stroke-width="1"/>
<text x="478.6" y="699.8" font-size="14" fill="#141414" textLength="110.9" lengthAdjust="spacingAndGlyphs">0.63 Hz = 38 b<tspan font-size="8.7" dy="2.2">r</tspan><tspan dy="-2.2">pm</tspan></text>
<text x="618.5" y="700.6" font-size="14" fill="#141414" textLength="111" lengthAdjust="spacingAndGlyphs">True RR = 40 b<tspan font-size="8.7" dy="2.2">r</tspan><tspan dy="-2.2">pm</tspan></text>
<text x="478.6" y="733.5" font-size="12" fill="#141414" textLength="153.5" lengthAdjust="spacingAndGlyphs" >Secondary peak frequencies</text>
<path d="M465.7,1100.2L430.4,1063.1" stroke="#000" stroke-width="1.1" fill="none"/><path d="M426.3,1058.7L432.3,1061.3L428.5,1064.8Z" fill="#000"/>
<rect x="465.8" y="1100.5" width="133.4" height="24" fill="#fff" stroke="#7f7f7f" stroke-width="1"/>
<rect x="615.5" y="1100.5" width="133.7" height="24" fill="#fff" stroke="#7f7f7f" stroke-width="1"/>
<text x="474.3" y="1117.5" font-size="14" fill="#141414" textLength="117.2" lengthAdjust="spacingAndGlyphs" >1.64 Hz = 98.4 bpm</text>
<text x="623.2" y="1117.5" font-size="14" fill="#141414" textLength="117.2" lengthAdjust="spacingAndGlyphs" >True HR = 104 bpm</text>
</svg></body></html>
